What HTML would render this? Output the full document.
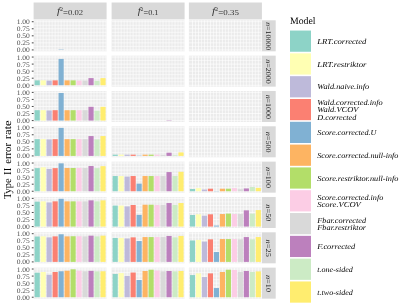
<!DOCTYPE html><html><head><meta charset="utf-8"><title>Type II error rate</title>
<style>html,body{margin:0;padding:0;background:#fff}svg{display:block}text{font-family:"Liberation Serif","DejaVu Serif",serif;text-rendering:geometricPrecision}</style></head><body>
<svg width="400" height="305" viewBox="0 0 400 305">
<rect width="400" height="305" fill="#fff"/>
<rect x="33.6" y="2.5" width="73.0" height="16.90" fill="#D9D9D9"/>
<text x="70.10" y="15.0" font-size="7.6" fill="#333" text-anchor="middle" textLength="26.2" lengthAdjust="spacingAndGlyphs"><tspan font-style="italic" font-size="9.6" dy="-0.6">f</tspan><tspan font-size="5.4" dy="-3.6">2</tspan><tspan dy="4.2">=0.02</tspan></text>
<rect x="111.6" y="2.5" width="73.0" height="16.90" fill="#D9D9D9"/>
<text x="148.10" y="15.0" font-size="7.6" fill="#333" text-anchor="middle" textLength="20.8" lengthAdjust="spacingAndGlyphs"><tspan font-style="italic" font-size="9.6" dy="-0.6">f</tspan><tspan font-size="5.4" dy="-3.6">2</tspan><tspan dy="4.2">=0.1</tspan></text>
<rect x="188.9" y="2.5" width="73.0" height="16.90" fill="#D9D9D9"/>
<text x="225.40" y="15.0" font-size="7.6" fill="#333" text-anchor="middle" textLength="27.0" lengthAdjust="spacingAndGlyphs"><tspan font-style="italic" font-size="9.6" dy="-0.6">f</tspan><tspan font-size="5.4" dy="-3.6">2</tspan><tspan dy="4.2">=0.35</tspan></text>
<rect x="33.6" y="20.31" width="73.0" height="31.02" fill="#EBEBEB"/>
<path d="M33.6 49.92h73.0" stroke="#fff" stroke-width="0.65"/><path d="M33.6 46.40h73.0" stroke="#fff" stroke-width="0.55"/><path d="M33.6 42.87h73.0" stroke="#fff" stroke-width="0.65"/><path d="M33.6 39.34h73.0" stroke="#fff" stroke-width="0.55"/><path d="M33.6 35.82h73.0" stroke="#fff" stroke-width="0.65"/><path d="M33.6 32.30h73.0" stroke="#fff" stroke-width="0.55"/><path d="M33.6 28.77h73.0" stroke="#fff" stroke-width="0.65"/><path d="M33.6 25.25h73.0" stroke="#fff" stroke-width="0.55"/><path d="M33.6 21.72h73.0" stroke="#fff" stroke-width="0.65"/><path d="M37.19 20.31V51.33" stroke="#fff" stroke-width="0.65"/><path d="M40.18 20.31V51.33" stroke="#fff" stroke-width="0.55"/><path d="M43.17 20.31V51.33" stroke="#fff" stroke-width="0.65"/><path d="M46.17 20.31V51.33" stroke="#fff" stroke-width="0.55"/><path d="M49.16 20.31V51.33" stroke="#fff" stroke-width="0.65"/><path d="M52.15 20.31V51.33" stroke="#fff" stroke-width="0.55"/><path d="M55.14 20.31V51.33" stroke="#fff" stroke-width="0.65"/><path d="M58.13 20.31V51.33" stroke="#fff" stroke-width="0.55"/><path d="M61.12 20.31V51.33" stroke="#fff" stroke-width="0.65"/><path d="M64.12 20.31V51.33" stroke="#fff" stroke-width="0.55"/><path d="M67.11 20.31V51.33" stroke="#fff" stroke-width="0.65"/><path d="M70.10 20.31V51.33" stroke="#fff" stroke-width="0.55"/><path d="M73.09 20.31V51.33" stroke="#fff" stroke-width="0.65"/><path d="M76.08 20.31V51.33" stroke="#fff" stroke-width="0.55"/><path d="M79.08 20.31V51.33" stroke="#fff" stroke-width="0.65"/><path d="M82.07 20.31V51.33" stroke="#fff" stroke-width="0.55"/><path d="M85.06 20.31V51.33" stroke="#fff" stroke-width="0.65"/><path d="M88.05 20.31V51.33" stroke="#fff" stroke-width="0.55"/><path d="M91.04 20.31V51.33" stroke="#fff" stroke-width="0.65"/><path d="M94.03 20.31V51.33" stroke="#fff" stroke-width="0.55"/><path d="M97.03 20.31V51.33" stroke="#fff" stroke-width="0.65"/><path d="M100.02 20.31V51.33" stroke="#fff" stroke-width="0.55"/><path d="M103.01 20.31V51.33" stroke="#fff" stroke-width="0.65"/><path d="M106.00 20.31V51.33" stroke="#fff" stroke-width="0.55"/>
<rect x="58.55" y="49.58" width="5.15" height="0.34" fill="#80B1D3"/>
<rect x="111.6" y="20.31" width="73.0" height="31.02" fill="#EBEBEB"/>
<path d="M111.6 49.92h73.0" stroke="#fff" stroke-width="0.65"/><path d="M111.6 46.40h73.0" stroke="#fff" stroke-width="0.55"/><path d="M111.6 42.87h73.0" stroke="#fff" stroke-width="0.65"/><path d="M111.6 39.34h73.0" stroke="#fff" stroke-width="0.55"/><path d="M111.6 35.82h73.0" stroke="#fff" stroke-width="0.65"/><path d="M111.6 32.30h73.0" stroke="#fff" stroke-width="0.55"/><path d="M111.6 28.77h73.0" stroke="#fff" stroke-width="0.65"/><path d="M111.6 25.25h73.0" stroke="#fff" stroke-width="0.55"/><path d="M111.6 21.72h73.0" stroke="#fff" stroke-width="0.65"/><path d="M115.19 20.31V51.33" stroke="#fff" stroke-width="0.65"/><path d="M118.18 20.31V51.33" stroke="#fff" stroke-width="0.55"/><path d="M121.17 20.31V51.33" stroke="#fff" stroke-width="0.65"/><path d="M124.17 20.31V51.33" stroke="#fff" stroke-width="0.55"/><path d="M127.16 20.31V51.33" stroke="#fff" stroke-width="0.65"/><path d="M130.15 20.31V51.33" stroke="#fff" stroke-width="0.55"/><path d="M133.14 20.31V51.33" stroke="#fff" stroke-width="0.65"/><path d="M136.13 20.31V51.33" stroke="#fff" stroke-width="0.55"/><path d="M139.12 20.31V51.33" stroke="#fff" stroke-width="0.65"/><path d="M142.12 20.31V51.33" stroke="#fff" stroke-width="0.55"/><path d="M145.11 20.31V51.33" stroke="#fff" stroke-width="0.65"/><path d="M148.10 20.31V51.33" stroke="#fff" stroke-width="0.55"/><path d="M151.09 20.31V51.33" stroke="#fff" stroke-width="0.65"/><path d="M154.08 20.31V51.33" stroke="#fff" stroke-width="0.55"/><path d="M157.08 20.31V51.33" stroke="#fff" stroke-width="0.65"/><path d="M160.07 20.31V51.33" stroke="#fff" stroke-width="0.55"/><path d="M163.06 20.31V51.33" stroke="#fff" stroke-width="0.65"/><path d="M166.05 20.31V51.33" stroke="#fff" stroke-width="0.55"/><path d="M169.04 20.31V51.33" stroke="#fff" stroke-width="0.65"/><path d="M172.03 20.31V51.33" stroke="#fff" stroke-width="0.55"/><path d="M175.03 20.31V51.33" stroke="#fff" stroke-width="0.65"/><path d="M178.02 20.31V51.33" stroke="#fff" stroke-width="0.55"/><path d="M181.01 20.31V51.33" stroke="#fff" stroke-width="0.65"/><path d="M184.00 20.31V51.33" stroke="#fff" stroke-width="0.55"/>
<rect x="188.9" y="20.31" width="73.0" height="31.02" fill="#EBEBEB"/>
<path d="M188.9 49.92h73.0" stroke="#fff" stroke-width="0.65"/><path d="M188.9 46.40h73.0" stroke="#fff" stroke-width="0.55"/><path d="M188.9 42.87h73.0" stroke="#fff" stroke-width="0.65"/><path d="M188.9 39.34h73.0" stroke="#fff" stroke-width="0.55"/><path d="M188.9 35.82h73.0" stroke="#fff" stroke-width="0.65"/><path d="M188.9 32.30h73.0" stroke="#fff" stroke-width="0.55"/><path d="M188.9 28.77h73.0" stroke="#fff" stroke-width="0.65"/><path d="M188.9 25.25h73.0" stroke="#fff" stroke-width="0.55"/><path d="M188.9 21.72h73.0" stroke="#fff" stroke-width="0.65"/><path d="M192.49 20.31V51.33" stroke="#fff" stroke-width="0.65"/><path d="M195.48 20.31V51.33" stroke="#fff" stroke-width="0.55"/><path d="M198.47 20.31V51.33" stroke="#fff" stroke-width="0.65"/><path d="M201.47 20.31V51.33" stroke="#fff" stroke-width="0.55"/><path d="M204.46 20.31V51.33" stroke="#fff" stroke-width="0.65"/><path d="M207.45 20.31V51.33" stroke="#fff" stroke-width="0.55"/><path d="M210.44 20.31V51.33" stroke="#fff" stroke-width="0.65"/><path d="M213.43 20.31V51.33" stroke="#fff" stroke-width="0.55"/><path d="M216.42 20.31V51.33" stroke="#fff" stroke-width="0.65"/><path d="M219.42 20.31V51.33" stroke="#fff" stroke-width="0.55"/><path d="M222.41 20.31V51.33" stroke="#fff" stroke-width="0.65"/><path d="M225.40 20.31V51.33" stroke="#fff" stroke-width="0.55"/><path d="M228.39 20.31V51.33" stroke="#fff" stroke-width="0.65"/><path d="M231.38 20.31V51.33" stroke="#fff" stroke-width="0.55"/><path d="M234.38 20.31V51.33" stroke="#fff" stroke-width="0.65"/><path d="M237.37 20.31V51.33" stroke="#fff" stroke-width="0.55"/><path d="M240.36 20.31V51.33" stroke="#fff" stroke-width="0.65"/><path d="M243.35 20.31V51.33" stroke="#fff" stroke-width="0.55"/><path d="M246.34 20.31V51.33" stroke="#fff" stroke-width="0.65"/><path d="M249.33 20.31V51.33" stroke="#fff" stroke-width="0.55"/><path d="M252.33 20.31V51.33" stroke="#fff" stroke-width="0.65"/><path d="M255.32 20.31V51.33" stroke="#fff" stroke-width="0.55"/><path d="M258.31 20.31V51.33" stroke="#fff" stroke-width="0.65"/><path d="M261.30 20.31V51.33" stroke="#fff" stroke-width="0.55"/>
<rect x="262.0" y="20.31" width="13.70" height="31.02" fill="#D9D9D9"/>
<text transform="translate(265.9 22.15) rotate(90)" font-size="7.2" fill="#1A1A1A" textLength="28.1" lengthAdjust="spacingAndGlyphs"><tspan font-style="italic">n</tspan>=10000</text>
<path d="M31.8 49.92H33.6" stroke="#333" stroke-width="0.9"/>
<text x="16.7" y="52.47" font-size="6.9" fill="#4D4D4D" textLength="13.2" lengthAdjust="spacingAndGlyphs">0.00</text>
<path d="M31.8 42.87H33.6" stroke="#333" stroke-width="0.9"/>
<text x="16.7" y="45.42" font-size="6.9" fill="#4D4D4D" textLength="13.2" lengthAdjust="spacingAndGlyphs">0.25</text>
<path d="M31.8 35.82H33.6" stroke="#333" stroke-width="0.9"/>
<text x="16.7" y="38.37" font-size="6.9" fill="#4D4D4D" textLength="13.2" lengthAdjust="spacingAndGlyphs">0.50</text>
<path d="M31.8 28.77H33.6" stroke="#333" stroke-width="0.9"/>
<text x="16.7" y="31.32" font-size="6.9" fill="#4D4D4D" textLength="13.2" lengthAdjust="spacingAndGlyphs">0.75</text>
<path d="M31.8 21.72H33.6" stroke="#333" stroke-width="0.9"/>
<text x="16.7" y="24.27" font-size="6.9" fill="#4D4D4D" textLength="13.2" lengthAdjust="spacingAndGlyphs">1.00</text>
<rect x="33.6" y="55.64" width="73.0" height="31.02" fill="#EBEBEB"/>
<path d="M33.6 85.25h73.0" stroke="#fff" stroke-width="0.65"/><path d="M33.6 81.72h73.0" stroke="#fff" stroke-width="0.55"/><path d="M33.6 78.20h73.0" stroke="#fff" stroke-width="0.65"/><path d="M33.6 74.67h73.0" stroke="#fff" stroke-width="0.55"/><path d="M33.6 71.15h73.0" stroke="#fff" stroke-width="0.65"/><path d="M33.6 67.62h73.0" stroke="#fff" stroke-width="0.55"/><path d="M33.6 64.10h73.0" stroke="#fff" stroke-width="0.65"/><path d="M33.6 60.58h73.0" stroke="#fff" stroke-width="0.55"/><path d="M33.6 57.05h73.0" stroke="#fff" stroke-width="0.65"/><path d="M37.19 55.64V86.66" stroke="#fff" stroke-width="0.65"/><path d="M40.18 55.64V86.66" stroke="#fff" stroke-width="0.55"/><path d="M43.17 55.64V86.66" stroke="#fff" stroke-width="0.65"/><path d="M46.17 55.64V86.66" stroke="#fff" stroke-width="0.55"/><path d="M49.16 55.64V86.66" stroke="#fff" stroke-width="0.65"/><path d="M52.15 55.64V86.66" stroke="#fff" stroke-width="0.55"/><path d="M55.14 55.64V86.66" stroke="#fff" stroke-width="0.65"/><path d="M58.13 55.64V86.66" stroke="#fff" stroke-width="0.55"/><path d="M61.12 55.64V86.66" stroke="#fff" stroke-width="0.65"/><path d="M64.12 55.64V86.66" stroke="#fff" stroke-width="0.55"/><path d="M67.11 55.64V86.66" stroke="#fff" stroke-width="0.65"/><path d="M70.10 55.64V86.66" stroke="#fff" stroke-width="0.55"/><path d="M73.09 55.64V86.66" stroke="#fff" stroke-width="0.65"/><path d="M76.08 55.64V86.66" stroke="#fff" stroke-width="0.55"/><path d="M79.08 55.64V86.66" stroke="#fff" stroke-width="0.65"/><path d="M82.07 55.64V86.66" stroke="#fff" stroke-width="0.55"/><path d="M85.06 55.64V86.66" stroke="#fff" stroke-width="0.65"/><path d="M88.05 55.64V86.66" stroke="#fff" stroke-width="0.55"/><path d="M91.04 55.64V86.66" stroke="#fff" stroke-width="0.65"/><path d="M94.03 55.64V86.66" stroke="#fff" stroke-width="0.55"/><path d="M97.03 55.64V86.66" stroke="#fff" stroke-width="0.65"/><path d="M100.02 55.64V86.66" stroke="#fff" stroke-width="0.55"/><path d="M103.01 55.64V86.66" stroke="#fff" stroke-width="0.65"/><path d="M106.00 55.64V86.66" stroke="#fff" stroke-width="0.55"/>
<rect x="34.62" y="80.37" width="5.15" height="4.88" fill="#8DD3C7"/>
<rect x="40.60" y="80.37" width="5.15" height="4.88" fill="#FFFFB3"/>
<rect x="46.58" y="80.65" width="5.15" height="4.60" fill="#BEBADA"/>
<rect x="52.57" y="80.37" width="5.15" height="4.88" fill="#FB8072"/>
<rect x="58.55" y="58.93" width="5.15" height="26.32" fill="#80B1D3"/>
<rect x="64.54" y="80.37" width="5.15" height="4.88" fill="#FDB462"/>
<rect x="70.52" y="80.37" width="5.15" height="4.88" fill="#B3DE69"/>
<rect x="76.50" y="80.65" width="5.15" height="4.60" fill="#FCCDE5"/>
<rect x="82.49" y="80.65" width="5.15" height="4.60" fill="#D9D9D9"/>
<rect x="88.47" y="78.11" width="5.15" height="7.14" fill="#BC80BD"/>
<rect x="94.45" y="80.93" width="5.15" height="4.32" fill="#CCEBC5"/>
<rect x="100.44" y="78.11" width="5.15" height="7.14" fill="#FFED6F"/>
<rect x="111.6" y="55.64" width="73.0" height="31.02" fill="#EBEBEB"/>
<path d="M111.6 85.25h73.0" stroke="#fff" stroke-width="0.65"/><path d="M111.6 81.72h73.0" stroke="#fff" stroke-width="0.55"/><path d="M111.6 78.20h73.0" stroke="#fff" stroke-width="0.65"/><path d="M111.6 74.67h73.0" stroke="#fff" stroke-width="0.55"/><path d="M111.6 71.15h73.0" stroke="#fff" stroke-width="0.65"/><path d="M111.6 67.62h73.0" stroke="#fff" stroke-width="0.55"/><path d="M111.6 64.10h73.0" stroke="#fff" stroke-width="0.65"/><path d="M111.6 60.58h73.0" stroke="#fff" stroke-width="0.55"/><path d="M111.6 57.05h73.0" stroke="#fff" stroke-width="0.65"/><path d="M115.19 55.64V86.66" stroke="#fff" stroke-width="0.65"/><path d="M118.18 55.64V86.66" stroke="#fff" stroke-width="0.55"/><path d="M121.17 55.64V86.66" stroke="#fff" stroke-width="0.65"/><path d="M124.17 55.64V86.66" stroke="#fff" stroke-width="0.55"/><path d="M127.16 55.64V86.66" stroke="#fff" stroke-width="0.65"/><path d="M130.15 55.64V86.66" stroke="#fff" stroke-width="0.55"/><path d="M133.14 55.64V86.66" stroke="#fff" stroke-width="0.65"/><path d="M136.13 55.64V86.66" stroke="#fff" stroke-width="0.55"/><path d="M139.12 55.64V86.66" stroke="#fff" stroke-width="0.65"/><path d="M142.12 55.64V86.66" stroke="#fff" stroke-width="0.55"/><path d="M145.11 55.64V86.66" stroke="#fff" stroke-width="0.65"/><path d="M148.10 55.64V86.66" stroke="#fff" stroke-width="0.55"/><path d="M151.09 55.64V86.66" stroke="#fff" stroke-width="0.65"/><path d="M154.08 55.64V86.66" stroke="#fff" stroke-width="0.55"/><path d="M157.08 55.64V86.66" stroke="#fff" stroke-width="0.65"/><path d="M160.07 55.64V86.66" stroke="#fff" stroke-width="0.55"/><path d="M163.06 55.64V86.66" stroke="#fff" stroke-width="0.65"/><path d="M166.05 55.64V86.66" stroke="#fff" stroke-width="0.55"/><path d="M169.04 55.64V86.66" stroke="#fff" stroke-width="0.65"/><path d="M172.03 55.64V86.66" stroke="#fff" stroke-width="0.55"/><path d="M175.03 55.64V86.66" stroke="#fff" stroke-width="0.65"/><path d="M178.02 55.64V86.66" stroke="#fff" stroke-width="0.55"/><path d="M181.01 55.64V86.66" stroke="#fff" stroke-width="0.65"/><path d="M184.00 55.64V86.66" stroke="#fff" stroke-width="0.55"/>
<rect x="188.9" y="55.64" width="73.0" height="31.02" fill="#EBEBEB"/>
<path d="M188.9 85.25h73.0" stroke="#fff" stroke-width="0.65"/><path d="M188.9 81.72h73.0" stroke="#fff" stroke-width="0.55"/><path d="M188.9 78.20h73.0" stroke="#fff" stroke-width="0.65"/><path d="M188.9 74.67h73.0" stroke="#fff" stroke-width="0.55"/><path d="M188.9 71.15h73.0" stroke="#fff" stroke-width="0.65"/><path d="M188.9 67.62h73.0" stroke="#fff" stroke-width="0.55"/><path d="M188.9 64.10h73.0" stroke="#fff" stroke-width="0.65"/><path d="M188.9 60.58h73.0" stroke="#fff" stroke-width="0.55"/><path d="M188.9 57.05h73.0" stroke="#fff" stroke-width="0.65"/><path d="M192.49 55.64V86.66" stroke="#fff" stroke-width="0.65"/><path d="M195.48 55.64V86.66" stroke="#fff" stroke-width="0.55"/><path d="M198.47 55.64V86.66" stroke="#fff" stroke-width="0.65"/><path d="M201.47 55.64V86.66" stroke="#fff" stroke-width="0.55"/><path d="M204.46 55.64V86.66" stroke="#fff" stroke-width="0.65"/><path d="M207.45 55.64V86.66" stroke="#fff" stroke-width="0.55"/><path d="M210.44 55.64V86.66" stroke="#fff" stroke-width="0.65"/><path d="M213.43 55.64V86.66" stroke="#fff" stroke-width="0.55"/><path d="M216.42 55.64V86.66" stroke="#fff" stroke-width="0.65"/><path d="M219.42 55.64V86.66" stroke="#fff" stroke-width="0.55"/><path d="M222.41 55.64V86.66" stroke="#fff" stroke-width="0.65"/><path d="M225.40 55.64V86.66" stroke="#fff" stroke-width="0.55"/><path d="M228.39 55.64V86.66" stroke="#fff" stroke-width="0.65"/><path d="M231.38 55.64V86.66" stroke="#fff" stroke-width="0.55"/><path d="M234.38 55.64V86.66" stroke="#fff" stroke-width="0.65"/><path d="M237.37 55.64V86.66" stroke="#fff" stroke-width="0.55"/><path d="M240.36 55.64V86.66" stroke="#fff" stroke-width="0.65"/><path d="M243.35 55.64V86.66" stroke="#fff" stroke-width="0.55"/><path d="M246.34 55.64V86.66" stroke="#fff" stroke-width="0.65"/><path d="M249.33 55.64V86.66" stroke="#fff" stroke-width="0.55"/><path d="M252.33 55.64V86.66" stroke="#fff" stroke-width="0.65"/><path d="M255.32 55.64V86.66" stroke="#fff" stroke-width="0.55"/><path d="M258.31 55.64V86.66" stroke="#fff" stroke-width="0.65"/><path d="M261.30 55.64V86.66" stroke="#fff" stroke-width="0.55"/>
<rect x="262.0" y="55.64" width="13.70" height="31.02" fill="#D9D9D9"/>
<text transform="translate(265.9 59.30) rotate(90)" font-size="7.2" fill="#1A1A1A" textLength="24.5" lengthAdjust="spacingAndGlyphs"><tspan font-style="italic">n</tspan>=2000</text>
<path d="M31.8 85.25H33.6" stroke="#333" stroke-width="0.9"/>
<text x="16.7" y="87.80" font-size="6.9" fill="#4D4D4D" textLength="13.2" lengthAdjust="spacingAndGlyphs">0.00</text>
<path d="M31.8 78.20H33.6" stroke="#333" stroke-width="0.9"/>
<text x="16.7" y="80.75" font-size="6.9" fill="#4D4D4D" textLength="13.2" lengthAdjust="spacingAndGlyphs">0.25</text>
<path d="M31.8 71.15H33.6" stroke="#333" stroke-width="0.9"/>
<text x="16.7" y="73.70" font-size="6.9" fill="#4D4D4D" textLength="13.2" lengthAdjust="spacingAndGlyphs">0.50</text>
<path d="M31.8 64.10H33.6" stroke="#333" stroke-width="0.9"/>
<text x="16.7" y="66.65" font-size="6.9" fill="#4D4D4D" textLength="13.2" lengthAdjust="spacingAndGlyphs">0.75</text>
<path d="M31.8 57.05H33.6" stroke="#333" stroke-width="0.9"/>
<text x="16.7" y="59.60" font-size="6.9" fill="#4D4D4D" textLength="13.2" lengthAdjust="spacingAndGlyphs">1.00</text>
<rect x="33.6" y="90.97" width="73.0" height="31.02" fill="#EBEBEB"/>
<path d="M33.6 120.58h73.0" stroke="#fff" stroke-width="0.65"/><path d="M33.6 117.05h73.0" stroke="#fff" stroke-width="0.55"/><path d="M33.6 113.53h73.0" stroke="#fff" stroke-width="0.65"/><path d="M33.6 110.00h73.0" stroke="#fff" stroke-width="0.55"/><path d="M33.6 106.48h73.0" stroke="#fff" stroke-width="0.65"/><path d="M33.6 102.95h73.0" stroke="#fff" stroke-width="0.55"/><path d="M33.6 99.43h73.0" stroke="#fff" stroke-width="0.65"/><path d="M33.6 95.91h73.0" stroke="#fff" stroke-width="0.55"/><path d="M33.6 92.38h73.0" stroke="#fff" stroke-width="0.65"/><path d="M37.19 90.97V121.99" stroke="#fff" stroke-width="0.65"/><path d="M40.18 90.97V121.99" stroke="#fff" stroke-width="0.55"/><path d="M43.17 90.97V121.99" stroke="#fff" stroke-width="0.65"/><path d="M46.17 90.97V121.99" stroke="#fff" stroke-width="0.55"/><path d="M49.16 90.97V121.99" stroke="#fff" stroke-width="0.65"/><path d="M52.15 90.97V121.99" stroke="#fff" stroke-width="0.55"/><path d="M55.14 90.97V121.99" stroke="#fff" stroke-width="0.65"/><path d="M58.13 90.97V121.99" stroke="#fff" stroke-width="0.55"/><path d="M61.12 90.97V121.99" stroke="#fff" stroke-width="0.65"/><path d="M64.12 90.97V121.99" stroke="#fff" stroke-width="0.55"/><path d="M67.11 90.97V121.99" stroke="#fff" stroke-width="0.65"/><path d="M70.10 90.97V121.99" stroke="#fff" stroke-width="0.55"/><path d="M73.09 90.97V121.99" stroke="#fff" stroke-width="0.65"/><path d="M76.08 90.97V121.99" stroke="#fff" stroke-width="0.55"/><path d="M79.08 90.97V121.99" stroke="#fff" stroke-width="0.65"/><path d="M82.07 90.97V121.99" stroke="#fff" stroke-width="0.55"/><path d="M85.06 90.97V121.99" stroke="#fff" stroke-width="0.65"/><path d="M88.05 90.97V121.99" stroke="#fff" stroke-width="0.55"/><path d="M91.04 90.97V121.99" stroke="#fff" stroke-width="0.65"/><path d="M94.03 90.97V121.99" stroke="#fff" stroke-width="0.55"/><path d="M97.03 90.97V121.99" stroke="#fff" stroke-width="0.65"/><path d="M100.02 90.97V121.99" stroke="#fff" stroke-width="0.55"/><path d="M103.01 90.97V121.99" stroke="#fff" stroke-width="0.65"/><path d="M106.00 90.97V121.99" stroke="#fff" stroke-width="0.55"/>
<rect x="34.62" y="110.19" width="5.15" height="10.39" fill="#8DD3C7"/>
<rect x="40.60" y="110.19" width="5.15" height="10.39" fill="#FFFFB3"/>
<rect x="46.58" y="110.47" width="5.15" height="10.11" fill="#BEBADA"/>
<rect x="52.57" y="110.19" width="5.15" height="10.39" fill="#FB8072"/>
<rect x="58.55" y="92.98" width="5.15" height="27.60" fill="#80B1D3"/>
<rect x="64.54" y="110.19" width="5.15" height="10.39" fill="#FDB462"/>
<rect x="70.52" y="110.19" width="5.15" height="10.39" fill="#B3DE69"/>
<rect x="76.50" y="110.19" width="5.15" height="10.39" fill="#FCCDE5"/>
<rect x="82.49" y="110.19" width="5.15" height="10.39" fill="#D9D9D9"/>
<rect x="88.47" y="106.80" width="5.15" height="13.78" fill="#BC80BD"/>
<rect x="94.45" y="110.75" width="5.15" height="9.83" fill="#CCEBC5"/>
<rect x="100.44" y="106.80" width="5.15" height="13.78" fill="#FFED6F"/>
<rect x="111.6" y="90.97" width="73.0" height="31.02" fill="#EBEBEB"/>
<path d="M111.6 120.58h73.0" stroke="#fff" stroke-width="0.65"/><path d="M111.6 117.05h73.0" stroke="#fff" stroke-width="0.55"/><path d="M111.6 113.53h73.0" stroke="#fff" stroke-width="0.65"/><path d="M111.6 110.00h73.0" stroke="#fff" stroke-width="0.55"/><path d="M111.6 106.48h73.0" stroke="#fff" stroke-width="0.65"/><path d="M111.6 102.95h73.0" stroke="#fff" stroke-width="0.55"/><path d="M111.6 99.43h73.0" stroke="#fff" stroke-width="0.65"/><path d="M111.6 95.91h73.0" stroke="#fff" stroke-width="0.55"/><path d="M111.6 92.38h73.0" stroke="#fff" stroke-width="0.65"/><path d="M115.19 90.97V121.99" stroke="#fff" stroke-width="0.65"/><path d="M118.18 90.97V121.99" stroke="#fff" stroke-width="0.55"/><path d="M121.17 90.97V121.99" stroke="#fff" stroke-width="0.65"/><path d="M124.17 90.97V121.99" stroke="#fff" stroke-width="0.55"/><path d="M127.16 90.97V121.99" stroke="#fff" stroke-width="0.65"/><path d="M130.15 90.97V121.99" stroke="#fff" stroke-width="0.55"/><path d="M133.14 90.97V121.99" stroke="#fff" stroke-width="0.65"/><path d="M136.13 90.97V121.99" stroke="#fff" stroke-width="0.55"/><path d="M139.12 90.97V121.99" stroke="#fff" stroke-width="0.65"/><path d="M142.12 90.97V121.99" stroke="#fff" stroke-width="0.55"/><path d="M145.11 90.97V121.99" stroke="#fff" stroke-width="0.65"/><path d="M148.10 90.97V121.99" stroke="#fff" stroke-width="0.55"/><path d="M151.09 90.97V121.99" stroke="#fff" stroke-width="0.65"/><path d="M154.08 90.97V121.99" stroke="#fff" stroke-width="0.55"/><path d="M157.08 90.97V121.99" stroke="#fff" stroke-width="0.65"/><path d="M160.07 90.97V121.99" stroke="#fff" stroke-width="0.55"/><path d="M163.06 90.97V121.99" stroke="#fff" stroke-width="0.65"/><path d="M166.05 90.97V121.99" stroke="#fff" stroke-width="0.55"/><path d="M169.04 90.97V121.99" stroke="#fff" stroke-width="0.65"/><path d="M172.03 90.97V121.99" stroke="#fff" stroke-width="0.55"/><path d="M175.03 90.97V121.99" stroke="#fff" stroke-width="0.65"/><path d="M178.02 90.97V121.99" stroke="#fff" stroke-width="0.55"/><path d="M181.01 90.97V121.99" stroke="#fff" stroke-width="0.65"/><path d="M184.00 90.97V121.99" stroke="#fff" stroke-width="0.55"/>
<rect x="166.47" y="120.24" width="5.15" height="0.34" fill="#BC80BD"/>
<rect x="188.9" y="90.97" width="73.0" height="31.02" fill="#EBEBEB"/>
<path d="M188.9 120.58h73.0" stroke="#fff" stroke-width="0.65"/><path d="M188.9 117.05h73.0" stroke="#fff" stroke-width="0.55"/><path d="M188.9 113.53h73.0" stroke="#fff" stroke-width="0.65"/><path d="M188.9 110.00h73.0" stroke="#fff" stroke-width="0.55"/><path d="M188.9 106.48h73.0" stroke="#fff" stroke-width="0.65"/><path d="M188.9 102.95h73.0" stroke="#fff" stroke-width="0.55"/><path d="M188.9 99.43h73.0" stroke="#fff" stroke-width="0.65"/><path d="M188.9 95.91h73.0" stroke="#fff" stroke-width="0.55"/><path d="M188.9 92.38h73.0" stroke="#fff" stroke-width="0.65"/><path d="M192.49 90.97V121.99" stroke="#fff" stroke-width="0.65"/><path d="M195.48 90.97V121.99" stroke="#fff" stroke-width="0.55"/><path d="M198.47 90.97V121.99" stroke="#fff" stroke-width="0.65"/><path d="M201.47 90.97V121.99" stroke="#fff" stroke-width="0.55"/><path d="M204.46 90.97V121.99" stroke="#fff" stroke-width="0.65"/><path d="M207.45 90.97V121.99" stroke="#fff" stroke-width="0.55"/><path d="M210.44 90.97V121.99" stroke="#fff" stroke-width="0.65"/><path d="M213.43 90.97V121.99" stroke="#fff" stroke-width="0.55"/><path d="M216.42 90.97V121.99" stroke="#fff" stroke-width="0.65"/><path d="M219.42 90.97V121.99" stroke="#fff" stroke-width="0.55"/><path d="M222.41 90.97V121.99" stroke="#fff" stroke-width="0.65"/><path d="M225.40 90.97V121.99" stroke="#fff" stroke-width="0.55"/><path d="M228.39 90.97V121.99" stroke="#fff" stroke-width="0.65"/><path d="M231.38 90.97V121.99" stroke="#fff" stroke-width="0.55"/><path d="M234.38 90.97V121.99" stroke="#fff" stroke-width="0.65"/><path d="M237.37 90.97V121.99" stroke="#fff" stroke-width="0.55"/><path d="M240.36 90.97V121.99" stroke="#fff" stroke-width="0.65"/><path d="M243.35 90.97V121.99" stroke="#fff" stroke-width="0.55"/><path d="M246.34 90.97V121.99" stroke="#fff" stroke-width="0.65"/><path d="M249.33 90.97V121.99" stroke="#fff" stroke-width="0.55"/><path d="M252.33 90.97V121.99" stroke="#fff" stroke-width="0.65"/><path d="M255.32 90.97V121.99" stroke="#fff" stroke-width="0.55"/><path d="M258.31 90.97V121.99" stroke="#fff" stroke-width="0.65"/><path d="M261.30 90.97V121.99" stroke="#fff" stroke-width="0.55"/>
<rect x="262.0" y="90.97" width="13.70" height="31.02" fill="#D9D9D9"/>
<text transform="translate(265.9 94.63) rotate(90)" font-size="7.2" fill="#1A1A1A" textLength="24.5" lengthAdjust="spacingAndGlyphs"><tspan font-style="italic">n</tspan>=1000</text>
<path d="M31.8 120.58H33.6" stroke="#333" stroke-width="0.9"/>
<text x="16.7" y="123.13" font-size="6.9" fill="#4D4D4D" textLength="13.2" lengthAdjust="spacingAndGlyphs">0.00</text>
<path d="M31.8 113.53H33.6" stroke="#333" stroke-width="0.9"/>
<text x="16.7" y="116.08" font-size="6.9" fill="#4D4D4D" textLength="13.2" lengthAdjust="spacingAndGlyphs">0.25</text>
<path d="M31.8 106.48H33.6" stroke="#333" stroke-width="0.9"/>
<text x="16.7" y="109.03" font-size="6.9" fill="#4D4D4D" textLength="13.2" lengthAdjust="spacingAndGlyphs">0.50</text>
<path d="M31.8 99.43H33.6" stroke="#333" stroke-width="0.9"/>
<text x="16.7" y="101.98" font-size="6.9" fill="#4D4D4D" textLength="13.2" lengthAdjust="spacingAndGlyphs">0.75</text>
<path d="M31.8 92.38H33.6" stroke="#333" stroke-width="0.9"/>
<text x="16.7" y="94.93" font-size="6.9" fill="#4D4D4D" textLength="13.2" lengthAdjust="spacingAndGlyphs">1.00</text>
<rect x="33.6" y="126.30" width="73.0" height="31.02" fill="#EBEBEB"/>
<path d="M33.6 155.91h73.0" stroke="#fff" stroke-width="0.65"/><path d="M33.6 152.38h73.0" stroke="#fff" stroke-width="0.55"/><path d="M33.6 148.86h73.0" stroke="#fff" stroke-width="0.65"/><path d="M33.6 145.34h73.0" stroke="#fff" stroke-width="0.55"/><path d="M33.6 141.81h73.0" stroke="#fff" stroke-width="0.65"/><path d="M33.6 138.28h73.0" stroke="#fff" stroke-width="0.55"/><path d="M33.6 134.76h73.0" stroke="#fff" stroke-width="0.65"/><path d="M33.6 131.23h73.0" stroke="#fff" stroke-width="0.55"/><path d="M33.6 127.71h73.0" stroke="#fff" stroke-width="0.65"/><path d="M37.19 126.30V157.32" stroke="#fff" stroke-width="0.65"/><path d="M40.18 126.30V157.32" stroke="#fff" stroke-width="0.55"/><path d="M43.17 126.30V157.32" stroke="#fff" stroke-width="0.65"/><path d="M46.17 126.30V157.32" stroke="#fff" stroke-width="0.55"/><path d="M49.16 126.30V157.32" stroke="#fff" stroke-width="0.65"/><path d="M52.15 126.30V157.32" stroke="#fff" stroke-width="0.55"/><path d="M55.14 126.30V157.32" stroke="#fff" stroke-width="0.65"/><path d="M58.13 126.30V157.32" stroke="#fff" stroke-width="0.55"/><path d="M61.12 126.30V157.32" stroke="#fff" stroke-width="0.65"/><path d="M64.12 126.30V157.32" stroke="#fff" stroke-width="0.55"/><path d="M67.11 126.30V157.32" stroke="#fff" stroke-width="0.65"/><path d="M70.10 126.30V157.32" stroke="#fff" stroke-width="0.55"/><path d="M73.09 126.30V157.32" stroke="#fff" stroke-width="0.65"/><path d="M76.08 126.30V157.32" stroke="#fff" stroke-width="0.55"/><path d="M79.08 126.30V157.32" stroke="#fff" stroke-width="0.65"/><path d="M82.07 126.30V157.32" stroke="#fff" stroke-width="0.55"/><path d="M85.06 126.30V157.32" stroke="#fff" stroke-width="0.65"/><path d="M88.05 126.30V157.32" stroke="#fff" stroke-width="0.55"/><path d="M91.04 126.30V157.32" stroke="#fff" stroke-width="0.65"/><path d="M94.03 126.30V157.32" stroke="#fff" stroke-width="0.55"/><path d="M97.03 126.30V157.32" stroke="#fff" stroke-width="0.65"/><path d="M100.02 126.30V157.32" stroke="#fff" stroke-width="0.55"/><path d="M103.01 126.30V157.32" stroke="#fff" stroke-width="0.65"/><path d="M106.00 126.30V157.32" stroke="#fff" stroke-width="0.55"/>
<rect x="34.62" y="139.16" width="5.15" height="16.75" fill="#8DD3C7"/>
<rect x="40.60" y="139.16" width="5.15" height="16.75" fill="#FFFFB3"/>
<rect x="46.58" y="139.44" width="5.15" height="16.47" fill="#BEBADA"/>
<rect x="52.57" y="139.16" width="5.15" height="16.75" fill="#FB8072"/>
<rect x="58.55" y="127.88" width="5.15" height="28.03" fill="#80B1D3"/>
<rect x="64.54" y="139.16" width="5.15" height="16.75" fill="#FDB462"/>
<rect x="70.52" y="139.16" width="5.15" height="16.75" fill="#B3DE69"/>
<rect x="76.50" y="139.16" width="5.15" height="16.75" fill="#FCCDE5"/>
<rect x="82.49" y="139.16" width="5.15" height="16.75" fill="#D9D9D9"/>
<rect x="88.47" y="136.06" width="5.15" height="19.85" fill="#BC80BD"/>
<rect x="94.45" y="139.44" width="5.15" height="16.47" fill="#CCEBC5"/>
<rect x="100.44" y="136.06" width="5.15" height="19.85" fill="#FFED6F"/>
<rect x="111.6" y="126.30" width="73.0" height="31.02" fill="#EBEBEB"/>
<path d="M111.6 155.91h73.0" stroke="#fff" stroke-width="0.65"/><path d="M111.6 152.38h73.0" stroke="#fff" stroke-width="0.55"/><path d="M111.6 148.86h73.0" stroke="#fff" stroke-width="0.65"/><path d="M111.6 145.34h73.0" stroke="#fff" stroke-width="0.55"/><path d="M111.6 141.81h73.0" stroke="#fff" stroke-width="0.65"/><path d="M111.6 138.28h73.0" stroke="#fff" stroke-width="0.55"/><path d="M111.6 134.76h73.0" stroke="#fff" stroke-width="0.65"/><path d="M111.6 131.23h73.0" stroke="#fff" stroke-width="0.55"/><path d="M111.6 127.71h73.0" stroke="#fff" stroke-width="0.65"/><path d="M115.19 126.30V157.32" stroke="#fff" stroke-width="0.65"/><path d="M118.18 126.30V157.32" stroke="#fff" stroke-width="0.55"/><path d="M121.17 126.30V157.32" stroke="#fff" stroke-width="0.65"/><path d="M124.17 126.30V157.32" stroke="#fff" stroke-width="0.55"/><path d="M127.16 126.30V157.32" stroke="#fff" stroke-width="0.65"/><path d="M130.15 126.30V157.32" stroke="#fff" stroke-width="0.55"/><path d="M133.14 126.30V157.32" stroke="#fff" stroke-width="0.65"/><path d="M136.13 126.30V157.32" stroke="#fff" stroke-width="0.55"/><path d="M139.12 126.30V157.32" stroke="#fff" stroke-width="0.65"/><path d="M142.12 126.30V157.32" stroke="#fff" stroke-width="0.55"/><path d="M145.11 126.30V157.32" stroke="#fff" stroke-width="0.65"/><path d="M148.10 126.30V157.32" stroke="#fff" stroke-width="0.55"/><path d="M151.09 126.30V157.32" stroke="#fff" stroke-width="0.65"/><path d="M154.08 126.30V157.32" stroke="#fff" stroke-width="0.55"/><path d="M157.08 126.30V157.32" stroke="#fff" stroke-width="0.65"/><path d="M160.07 126.30V157.32" stroke="#fff" stroke-width="0.55"/><path d="M163.06 126.30V157.32" stroke="#fff" stroke-width="0.65"/><path d="M166.05 126.30V157.32" stroke="#fff" stroke-width="0.55"/><path d="M169.04 126.30V157.32" stroke="#fff" stroke-width="0.65"/><path d="M172.03 126.30V157.32" stroke="#fff" stroke-width="0.55"/><path d="M175.03 126.30V157.32" stroke="#fff" stroke-width="0.65"/><path d="M178.02 126.30V157.32" stroke="#fff" stroke-width="0.55"/><path d="M181.01 126.30V157.32" stroke="#fff" stroke-width="0.65"/><path d="M184.00 126.30V157.32" stroke="#fff" stroke-width="0.55"/>
<rect x="112.62" y="154.67" width="5.15" height="1.24" fill="#8DD3C7"/>
<rect x="118.60" y="154.67" width="5.15" height="1.24" fill="#FFFFB3"/>
<rect x="124.58" y="154.67" width="5.15" height="1.24" fill="#BEBADA"/>
<rect x="130.57" y="154.67" width="5.15" height="1.24" fill="#FB8072"/>
<rect x="136.55" y="155.63" width="5.15" height="0.28" fill="#80B1D3"/>
<rect x="142.54" y="154.67" width="5.15" height="1.24" fill="#FDB462"/>
<rect x="148.52" y="154.67" width="5.15" height="1.24" fill="#B3DE69"/>
<rect x="154.50" y="154.67" width="5.15" height="1.24" fill="#FCCDE5"/>
<rect x="160.49" y="154.95" width="5.15" height="0.96" fill="#D9D9D9"/>
<rect x="166.47" y="152.70" width="5.15" height="3.21" fill="#BC80BD"/>
<rect x="172.45" y="155.23" width="5.15" height="0.68" fill="#CCEBC5"/>
<rect x="178.44" y="152.41" width="5.15" height="3.50" fill="#FFED6F"/>
<rect x="188.9" y="126.30" width="73.0" height="31.02" fill="#EBEBEB"/>
<path d="M188.9 155.91h73.0" stroke="#fff" stroke-width="0.65"/><path d="M188.9 152.38h73.0" stroke="#fff" stroke-width="0.55"/><path d="M188.9 148.86h73.0" stroke="#fff" stroke-width="0.65"/><path d="M188.9 145.34h73.0" stroke="#fff" stroke-width="0.55"/><path d="M188.9 141.81h73.0" stroke="#fff" stroke-width="0.65"/><path d="M188.9 138.28h73.0" stroke="#fff" stroke-width="0.55"/><path d="M188.9 134.76h73.0" stroke="#fff" stroke-width="0.65"/><path d="M188.9 131.23h73.0" stroke="#fff" stroke-width="0.55"/><path d="M188.9 127.71h73.0" stroke="#fff" stroke-width="0.65"/><path d="M192.49 126.30V157.32" stroke="#fff" stroke-width="0.65"/><path d="M195.48 126.30V157.32" stroke="#fff" stroke-width="0.55"/><path d="M198.47 126.30V157.32" stroke="#fff" stroke-width="0.65"/><path d="M201.47 126.30V157.32" stroke="#fff" stroke-width="0.55"/><path d="M204.46 126.30V157.32" stroke="#fff" stroke-width="0.65"/><path d="M207.45 126.30V157.32" stroke="#fff" stroke-width="0.55"/><path d="M210.44 126.30V157.32" stroke="#fff" stroke-width="0.65"/><path d="M213.43 126.30V157.32" stroke="#fff" stroke-width="0.55"/><path d="M216.42 126.30V157.32" stroke="#fff" stroke-width="0.65"/><path d="M219.42 126.30V157.32" stroke="#fff" stroke-width="0.55"/><path d="M222.41 126.30V157.32" stroke="#fff" stroke-width="0.65"/><path d="M225.40 126.30V157.32" stroke="#fff" stroke-width="0.55"/><path d="M228.39 126.30V157.32" stroke="#fff" stroke-width="0.65"/><path d="M231.38 126.30V157.32" stroke="#fff" stroke-width="0.55"/><path d="M234.38 126.30V157.32" stroke="#fff" stroke-width="0.65"/><path d="M237.37 126.30V157.32" stroke="#fff" stroke-width="0.55"/><path d="M240.36 126.30V157.32" stroke="#fff" stroke-width="0.65"/><path d="M243.35 126.30V157.32" stroke="#fff" stroke-width="0.55"/><path d="M246.34 126.30V157.32" stroke="#fff" stroke-width="0.65"/><path d="M249.33 126.30V157.32" stroke="#fff" stroke-width="0.55"/><path d="M252.33 126.30V157.32" stroke="#fff" stroke-width="0.65"/><path d="M255.32 126.30V157.32" stroke="#fff" stroke-width="0.55"/><path d="M258.31 126.30V157.32" stroke="#fff" stroke-width="0.65"/><path d="M261.30 126.30V157.32" stroke="#fff" stroke-width="0.55"/>
<rect x="262.0" y="126.30" width="13.70" height="31.02" fill="#D9D9D9"/>
<text transform="translate(265.9 131.77) rotate(90)" font-size="7.2" fill="#1A1A1A" textLength="20.9" lengthAdjust="spacingAndGlyphs"><tspan font-style="italic">n</tspan>=500</text>
<path d="M31.8 155.91H33.6" stroke="#333" stroke-width="0.9"/>
<text x="16.7" y="158.46" font-size="6.9" fill="#4D4D4D" textLength="13.2" lengthAdjust="spacingAndGlyphs">0.00</text>
<path d="M31.8 148.86H33.6" stroke="#333" stroke-width="0.9"/>
<text x="16.7" y="151.41" font-size="6.9" fill="#4D4D4D" textLength="13.2" lengthAdjust="spacingAndGlyphs">0.25</text>
<path d="M31.8 141.81H33.6" stroke="#333" stroke-width="0.9"/>
<text x="16.7" y="144.36" font-size="6.9" fill="#4D4D4D" textLength="13.2" lengthAdjust="spacingAndGlyphs">0.50</text>
<path d="M31.8 134.76H33.6" stroke="#333" stroke-width="0.9"/>
<text x="16.7" y="137.31" font-size="6.9" fill="#4D4D4D" textLength="13.2" lengthAdjust="spacingAndGlyphs">0.75</text>
<path d="M31.8 127.71H33.6" stroke="#333" stroke-width="0.9"/>
<text x="16.7" y="130.26" font-size="6.9" fill="#4D4D4D" textLength="13.2" lengthAdjust="spacingAndGlyphs">1.00</text>
<rect x="33.6" y="161.63" width="73.0" height="31.02" fill="#EBEBEB"/>
<path d="M33.6 191.24h73.0" stroke="#fff" stroke-width="0.65"/><path d="M33.6 187.71h73.0" stroke="#fff" stroke-width="0.55"/><path d="M33.6 184.19h73.0" stroke="#fff" stroke-width="0.65"/><path d="M33.6 180.66h73.0" stroke="#fff" stroke-width="0.55"/><path d="M33.6 177.14h73.0" stroke="#fff" stroke-width="0.65"/><path d="M33.6 173.61h73.0" stroke="#fff" stroke-width="0.55"/><path d="M33.6 170.09h73.0" stroke="#fff" stroke-width="0.65"/><path d="M33.6 166.56h73.0" stroke="#fff" stroke-width="0.55"/><path d="M33.6 163.04h73.0" stroke="#fff" stroke-width="0.65"/><path d="M37.19 161.63V192.65" stroke="#fff" stroke-width="0.65"/><path d="M40.18 161.63V192.65" stroke="#fff" stroke-width="0.55"/><path d="M43.17 161.63V192.65" stroke="#fff" stroke-width="0.65"/><path d="M46.17 161.63V192.65" stroke="#fff" stroke-width="0.55"/><path d="M49.16 161.63V192.65" stroke="#fff" stroke-width="0.65"/><path d="M52.15 161.63V192.65" stroke="#fff" stroke-width="0.55"/><path d="M55.14 161.63V192.65" stroke="#fff" stroke-width="0.65"/><path d="M58.13 161.63V192.65" stroke="#fff" stroke-width="0.55"/><path d="M61.12 161.63V192.65" stroke="#fff" stroke-width="0.65"/><path d="M64.12 161.63V192.65" stroke="#fff" stroke-width="0.55"/><path d="M67.11 161.63V192.65" stroke="#fff" stroke-width="0.65"/><path d="M70.10 161.63V192.65" stroke="#fff" stroke-width="0.55"/><path d="M73.09 161.63V192.65" stroke="#fff" stroke-width="0.65"/><path d="M76.08 161.63V192.65" stroke="#fff" stroke-width="0.55"/><path d="M79.08 161.63V192.65" stroke="#fff" stroke-width="0.65"/><path d="M82.07 161.63V192.65" stroke="#fff" stroke-width="0.55"/><path d="M85.06 161.63V192.65" stroke="#fff" stroke-width="0.65"/><path d="M88.05 161.63V192.65" stroke="#fff" stroke-width="0.55"/><path d="M91.04 161.63V192.65" stroke="#fff" stroke-width="0.65"/><path d="M94.03 161.63V192.65" stroke="#fff" stroke-width="0.55"/><path d="M97.03 161.63V192.65" stroke="#fff" stroke-width="0.65"/><path d="M100.02 161.63V192.65" stroke="#fff" stroke-width="0.55"/><path d="M103.01 161.63V192.65" stroke="#fff" stroke-width="0.65"/><path d="M106.00 161.63V192.65" stroke="#fff" stroke-width="0.55"/>
<rect x="34.62" y="168.13" width="5.15" height="23.11" fill="#8DD3C7"/>
<rect x="40.60" y="167.29" width="5.15" height="23.95" fill="#FFFFB3"/>
<rect x="46.58" y="168.98" width="5.15" height="22.26" fill="#BEBADA"/>
<rect x="52.57" y="168.13" width="5.15" height="23.11" fill="#FB8072"/>
<rect x="58.55" y="163.34" width="5.15" height="27.90" fill="#80B1D3"/>
<rect x="64.54" y="167.99" width="5.15" height="23.25" fill="#FDB462"/>
<rect x="70.52" y="167.99" width="5.15" height="23.25" fill="#B3DE69"/>
<rect x="76.50" y="167.99" width="5.15" height="23.25" fill="#FCCDE5"/>
<rect x="82.49" y="167.99" width="5.15" height="23.25" fill="#D9D9D9"/>
<rect x="88.47" y="166.02" width="5.15" height="25.22" fill="#BC80BD"/>
<rect x="94.45" y="168.13" width="5.15" height="23.11" fill="#CCEBC5"/>
<rect x="100.44" y="166.16" width="5.15" height="25.08" fill="#FFED6F"/>
<rect x="111.6" y="161.63" width="73.0" height="31.02" fill="#EBEBEB"/>
<path d="M111.6 191.24h73.0" stroke="#fff" stroke-width="0.65"/><path d="M111.6 187.71h73.0" stroke="#fff" stroke-width="0.55"/><path d="M111.6 184.19h73.0" stroke="#fff" stroke-width="0.65"/><path d="M111.6 180.66h73.0" stroke="#fff" stroke-width="0.55"/><path d="M111.6 177.14h73.0" stroke="#fff" stroke-width="0.65"/><path d="M111.6 173.61h73.0" stroke="#fff" stroke-width="0.55"/><path d="M111.6 170.09h73.0" stroke="#fff" stroke-width="0.65"/><path d="M111.6 166.56h73.0" stroke="#fff" stroke-width="0.55"/><path d="M111.6 163.04h73.0" stroke="#fff" stroke-width="0.65"/><path d="M115.19 161.63V192.65" stroke="#fff" stroke-width="0.65"/><path d="M118.18 161.63V192.65" stroke="#fff" stroke-width="0.55"/><path d="M121.17 161.63V192.65" stroke="#fff" stroke-width="0.65"/><path d="M124.17 161.63V192.65" stroke="#fff" stroke-width="0.55"/><path d="M127.16 161.63V192.65" stroke="#fff" stroke-width="0.65"/><path d="M130.15 161.63V192.65" stroke="#fff" stroke-width="0.55"/><path d="M133.14 161.63V192.65" stroke="#fff" stroke-width="0.65"/><path d="M136.13 161.63V192.65" stroke="#fff" stroke-width="0.55"/><path d="M139.12 161.63V192.65" stroke="#fff" stroke-width="0.65"/><path d="M142.12 161.63V192.65" stroke="#fff" stroke-width="0.55"/><path d="M145.11 161.63V192.65" stroke="#fff" stroke-width="0.65"/><path d="M148.10 161.63V192.65" stroke="#fff" stroke-width="0.55"/><path d="M151.09 161.63V192.65" stroke="#fff" stroke-width="0.65"/><path d="M154.08 161.63V192.65" stroke="#fff" stroke-width="0.55"/><path d="M157.08 161.63V192.65" stroke="#fff" stroke-width="0.65"/><path d="M160.07 161.63V192.65" stroke="#fff" stroke-width="0.55"/><path d="M163.06 161.63V192.65" stroke="#fff" stroke-width="0.65"/><path d="M166.05 161.63V192.65" stroke="#fff" stroke-width="0.55"/><path d="M169.04 161.63V192.65" stroke="#fff" stroke-width="0.65"/><path d="M172.03 161.63V192.65" stroke="#fff" stroke-width="0.55"/><path d="M175.03 161.63V192.65" stroke="#fff" stroke-width="0.65"/><path d="M178.02 161.63V192.65" stroke="#fff" stroke-width="0.55"/><path d="M181.01 161.63V192.65" stroke="#fff" stroke-width="0.65"/><path d="M184.00 161.63V192.65" stroke="#fff" stroke-width="0.55"/>
<rect x="112.62" y="176.03" width="5.15" height="15.21" fill="#8DD3C7"/>
<rect x="118.60" y="176.03" width="5.15" height="15.21" fill="#FFFFB3"/>
<rect x="124.58" y="176.59" width="5.15" height="14.65" fill="#BEBADA"/>
<rect x="130.57" y="176.03" width="5.15" height="15.21" fill="#FB8072"/>
<rect x="136.55" y="183.64" width="5.15" height="7.60" fill="#80B1D3"/>
<rect x="142.54" y="176.03" width="5.15" height="15.21" fill="#FDB462"/>
<rect x="148.52" y="176.03" width="5.15" height="15.21" fill="#B3DE69"/>
<rect x="154.50" y="176.03" width="5.15" height="15.21" fill="#FCCDE5"/>
<rect x="160.49" y="176.03" width="5.15" height="15.21" fill="#D9D9D9"/>
<rect x="166.47" y="172.08" width="5.15" height="19.16" fill="#BC80BD"/>
<rect x="172.45" y="176.03" width="5.15" height="15.21" fill="#CCEBC5"/>
<rect x="178.44" y="171.80" width="5.15" height="19.44" fill="#FFED6F"/>
<rect x="188.9" y="161.63" width="73.0" height="31.02" fill="#EBEBEB"/>
<path d="M188.9 191.24h73.0" stroke="#fff" stroke-width="0.65"/><path d="M188.9 187.71h73.0" stroke="#fff" stroke-width="0.55"/><path d="M188.9 184.19h73.0" stroke="#fff" stroke-width="0.65"/><path d="M188.9 180.66h73.0" stroke="#fff" stroke-width="0.55"/><path d="M188.9 177.14h73.0" stroke="#fff" stroke-width="0.65"/><path d="M188.9 173.61h73.0" stroke="#fff" stroke-width="0.55"/><path d="M188.9 170.09h73.0" stroke="#fff" stroke-width="0.65"/><path d="M188.9 166.56h73.0" stroke="#fff" stroke-width="0.55"/><path d="M188.9 163.04h73.0" stroke="#fff" stroke-width="0.65"/><path d="M192.49 161.63V192.65" stroke="#fff" stroke-width="0.65"/><path d="M195.48 161.63V192.65" stroke="#fff" stroke-width="0.55"/><path d="M198.47 161.63V192.65" stroke="#fff" stroke-width="0.65"/><path d="M201.47 161.63V192.65" stroke="#fff" stroke-width="0.55"/><path d="M204.46 161.63V192.65" stroke="#fff" stroke-width="0.65"/><path d="M207.45 161.63V192.65" stroke="#fff" stroke-width="0.55"/><path d="M210.44 161.63V192.65" stroke="#fff" stroke-width="0.65"/><path d="M213.43 161.63V192.65" stroke="#fff" stroke-width="0.55"/><path d="M216.42 161.63V192.65" stroke="#fff" stroke-width="0.65"/><path d="M219.42 161.63V192.65" stroke="#fff" stroke-width="0.55"/><path d="M222.41 161.63V192.65" stroke="#fff" stroke-width="0.65"/><path d="M225.40 161.63V192.65" stroke="#fff" stroke-width="0.55"/><path d="M228.39 161.63V192.65" stroke="#fff" stroke-width="0.65"/><path d="M231.38 161.63V192.65" stroke="#fff" stroke-width="0.55"/><path d="M234.38 161.63V192.65" stroke="#fff" stroke-width="0.65"/><path d="M237.37 161.63V192.65" stroke="#fff" stroke-width="0.55"/><path d="M240.36 161.63V192.65" stroke="#fff" stroke-width="0.65"/><path d="M243.35 161.63V192.65" stroke="#fff" stroke-width="0.55"/><path d="M246.34 161.63V192.65" stroke="#fff" stroke-width="0.65"/><path d="M249.33 161.63V192.65" stroke="#fff" stroke-width="0.55"/><path d="M252.33 161.63V192.65" stroke="#fff" stroke-width="0.65"/><path d="M255.32 161.63V192.65" stroke="#fff" stroke-width="0.55"/><path d="M258.31 161.63V192.65" stroke="#fff" stroke-width="0.65"/><path d="M261.30 161.63V192.65" stroke="#fff" stroke-width="0.55"/>
<rect x="189.92" y="189.00" width="5.15" height="2.24" fill="#8DD3C7"/>
<rect x="195.90" y="188.16" width="5.15" height="3.08" fill="#FFFFB3"/>
<rect x="201.88" y="189.57" width="5.15" height="1.67" fill="#BEBADA"/>
<rect x="207.87" y="188.72" width="5.15" height="2.52" fill="#FB8072"/>
<rect x="213.85" y="191.01" width="5.15" height="0.23" fill="#80B1D3"/>
<rect x="219.84" y="188.72" width="5.15" height="2.52" fill="#FDB462"/>
<rect x="225.82" y="188.72" width="5.15" height="2.52" fill="#B3DE69"/>
<rect x="231.80" y="188.16" width="5.15" height="3.08" fill="#FCCDE5"/>
<rect x="237.79" y="189.28" width="5.15" height="1.96" fill="#D9D9D9"/>
<rect x="243.77" y="188.44" width="5.15" height="2.80" fill="#BC80BD"/>
<rect x="249.75" y="187.03" width="5.15" height="4.21" fill="#CCEBC5"/>
<rect x="255.74" y="187.87" width="5.15" height="3.37" fill="#FFED6F"/>
<rect x="262.0" y="161.63" width="13.70" height="31.02" fill="#D9D9D9"/>
<text transform="translate(265.9 167.10) rotate(90)" font-size="7.2" fill="#1A1A1A" textLength="20.9" lengthAdjust="spacingAndGlyphs"><tspan font-style="italic">n</tspan>=100</text>
<path d="M31.8 191.24H33.6" stroke="#333" stroke-width="0.9"/>
<text x="16.7" y="193.79" font-size="6.9" fill="#4D4D4D" textLength="13.2" lengthAdjust="spacingAndGlyphs">0.00</text>
<path d="M31.8 184.19H33.6" stroke="#333" stroke-width="0.9"/>
<text x="16.7" y="186.74" font-size="6.9" fill="#4D4D4D" textLength="13.2" lengthAdjust="spacingAndGlyphs">0.25</text>
<path d="M31.8 177.14H33.6" stroke="#333" stroke-width="0.9"/>
<text x="16.7" y="179.69" font-size="6.9" fill="#4D4D4D" textLength="13.2" lengthAdjust="spacingAndGlyphs">0.50</text>
<path d="M31.8 170.09H33.6" stroke="#333" stroke-width="0.9"/>
<text x="16.7" y="172.64" font-size="6.9" fill="#4D4D4D" textLength="13.2" lengthAdjust="spacingAndGlyphs">0.75</text>
<path d="M31.8 163.04H33.6" stroke="#333" stroke-width="0.9"/>
<text x="16.7" y="165.59" font-size="6.9" fill="#4D4D4D" textLength="13.2" lengthAdjust="spacingAndGlyphs">1.00</text>
<rect x="33.6" y="196.96" width="73.0" height="31.02" fill="#EBEBEB"/>
<path d="M33.6 226.57h73.0" stroke="#fff" stroke-width="0.65"/><path d="M33.6 223.04h73.0" stroke="#fff" stroke-width="0.55"/><path d="M33.6 219.52h73.0" stroke="#fff" stroke-width="0.65"/><path d="M33.6 215.99h73.0" stroke="#fff" stroke-width="0.55"/><path d="M33.6 212.47h73.0" stroke="#fff" stroke-width="0.65"/><path d="M33.6 208.94h73.0" stroke="#fff" stroke-width="0.55"/><path d="M33.6 205.42h73.0" stroke="#fff" stroke-width="0.65"/><path d="M33.6 201.89h73.0" stroke="#fff" stroke-width="0.55"/><path d="M33.6 198.37h73.0" stroke="#fff" stroke-width="0.65"/><path d="M37.19 196.96V227.98" stroke="#fff" stroke-width="0.65"/><path d="M40.18 196.96V227.98" stroke="#fff" stroke-width="0.55"/><path d="M43.17 196.96V227.98" stroke="#fff" stroke-width="0.65"/><path d="M46.17 196.96V227.98" stroke="#fff" stroke-width="0.55"/><path d="M49.16 196.96V227.98" stroke="#fff" stroke-width="0.65"/><path d="M52.15 196.96V227.98" stroke="#fff" stroke-width="0.55"/><path d="M55.14 196.96V227.98" stroke="#fff" stroke-width="0.65"/><path d="M58.13 196.96V227.98" stroke="#fff" stroke-width="0.55"/><path d="M61.12 196.96V227.98" stroke="#fff" stroke-width="0.65"/><path d="M64.12 196.96V227.98" stroke="#fff" stroke-width="0.55"/><path d="M67.11 196.96V227.98" stroke="#fff" stroke-width="0.65"/><path d="M70.10 196.96V227.98" stroke="#fff" stroke-width="0.55"/><path d="M73.09 196.96V227.98" stroke="#fff" stroke-width="0.65"/><path d="M76.08 196.96V227.98" stroke="#fff" stroke-width="0.55"/><path d="M79.08 196.96V227.98" stroke="#fff" stroke-width="0.65"/><path d="M82.07 196.96V227.98" stroke="#fff" stroke-width="0.55"/><path d="M85.06 196.96V227.98" stroke="#fff" stroke-width="0.65"/><path d="M88.05 196.96V227.98" stroke="#fff" stroke-width="0.55"/><path d="M91.04 196.96V227.98" stroke="#fff" stroke-width="0.65"/><path d="M94.03 196.96V227.98" stroke="#fff" stroke-width="0.55"/><path d="M97.03 196.96V227.98" stroke="#fff" stroke-width="0.65"/><path d="M100.02 196.96V227.98" stroke="#fff" stroke-width="0.55"/><path d="M103.01 196.96V227.98" stroke="#fff" stroke-width="0.65"/><path d="M106.00 196.96V227.98" stroke="#fff" stroke-width="0.55"/>
<rect x="34.62" y="201.62" width="5.15" height="24.95" fill="#8DD3C7"/>
<rect x="40.60" y="201.34" width="5.15" height="25.23" fill="#FFFFB3"/>
<rect x="46.58" y="202.47" width="5.15" height="24.10" fill="#BEBADA"/>
<rect x="52.57" y="201.34" width="5.15" height="25.23" fill="#FB8072"/>
<rect x="58.55" y="198.80" width="5.15" height="27.77" fill="#80B1D3"/>
<rect x="64.54" y="201.34" width="5.15" height="25.23" fill="#FDB462"/>
<rect x="70.52" y="201.34" width="5.15" height="25.23" fill="#B3DE69"/>
<rect x="76.50" y="201.34" width="5.15" height="25.23" fill="#FCCDE5"/>
<rect x="82.49" y="201.34" width="5.15" height="25.23" fill="#D9D9D9"/>
<rect x="88.47" y="200.35" width="5.15" height="26.22" fill="#BC80BD"/>
<rect x="94.45" y="201.34" width="5.15" height="25.23" fill="#CCEBC5"/>
<rect x="100.44" y="200.35" width="5.15" height="26.22" fill="#FFED6F"/>
<rect x="111.6" y="196.96" width="73.0" height="31.02" fill="#EBEBEB"/>
<path d="M111.6 226.57h73.0" stroke="#fff" stroke-width="0.65"/><path d="M111.6 223.04h73.0" stroke="#fff" stroke-width="0.55"/><path d="M111.6 219.52h73.0" stroke="#fff" stroke-width="0.65"/><path d="M111.6 215.99h73.0" stroke="#fff" stroke-width="0.55"/><path d="M111.6 212.47h73.0" stroke="#fff" stroke-width="0.65"/><path d="M111.6 208.94h73.0" stroke="#fff" stroke-width="0.55"/><path d="M111.6 205.42h73.0" stroke="#fff" stroke-width="0.65"/><path d="M111.6 201.89h73.0" stroke="#fff" stroke-width="0.55"/><path d="M111.6 198.37h73.0" stroke="#fff" stroke-width="0.65"/><path d="M115.19 196.96V227.98" stroke="#fff" stroke-width="0.65"/><path d="M118.18 196.96V227.98" stroke="#fff" stroke-width="0.55"/><path d="M121.17 196.96V227.98" stroke="#fff" stroke-width="0.65"/><path d="M124.17 196.96V227.98" stroke="#fff" stroke-width="0.55"/><path d="M127.16 196.96V227.98" stroke="#fff" stroke-width="0.65"/><path d="M130.15 196.96V227.98" stroke="#fff" stroke-width="0.55"/><path d="M133.14 196.96V227.98" stroke="#fff" stroke-width="0.65"/><path d="M136.13 196.96V227.98" stroke="#fff" stroke-width="0.55"/><path d="M139.12 196.96V227.98" stroke="#fff" stroke-width="0.65"/><path d="M142.12 196.96V227.98" stroke="#fff" stroke-width="0.55"/><path d="M145.11 196.96V227.98" stroke="#fff" stroke-width="0.65"/><path d="M148.10 196.96V227.98" stroke="#fff" stroke-width="0.55"/><path d="M151.09 196.96V227.98" stroke="#fff" stroke-width="0.65"/><path d="M154.08 196.96V227.98" stroke="#fff" stroke-width="0.55"/><path d="M157.08 196.96V227.98" stroke="#fff" stroke-width="0.65"/><path d="M160.07 196.96V227.98" stroke="#fff" stroke-width="0.55"/><path d="M163.06 196.96V227.98" stroke="#fff" stroke-width="0.65"/><path d="M166.05 196.96V227.98" stroke="#fff" stroke-width="0.55"/><path d="M169.04 196.96V227.98" stroke="#fff" stroke-width="0.65"/><path d="M172.03 196.96V227.98" stroke="#fff" stroke-width="0.55"/><path d="M175.03 196.96V227.98" stroke="#fff" stroke-width="0.65"/><path d="M178.02 196.96V227.98" stroke="#fff" stroke-width="0.55"/><path d="M181.01 196.96V227.98" stroke="#fff" stroke-width="0.65"/><path d="M184.00 196.96V227.98" stroke="#fff" stroke-width="0.55"/>
<rect x="112.62" y="205.57" width="5.15" height="21.00" fill="#8DD3C7"/>
<rect x="118.60" y="205.57" width="5.15" height="21.00" fill="#FFFFB3"/>
<rect x="124.58" y="206.41" width="5.15" height="20.16" fill="#BEBADA"/>
<rect x="130.57" y="205.00" width="5.15" height="21.57" fill="#FB8072"/>
<rect x="136.55" y="214.87" width="5.15" height="11.70" fill="#80B1D3"/>
<rect x="142.54" y="204.72" width="5.15" height="21.85" fill="#FDB462"/>
<rect x="148.52" y="204.72" width="5.15" height="21.85" fill="#B3DE69"/>
<rect x="154.50" y="205.00" width="5.15" height="21.57" fill="#FCCDE5"/>
<rect x="160.49" y="205.00" width="5.15" height="21.57" fill="#D9D9D9"/>
<rect x="166.47" y="203.03" width="5.15" height="23.54" fill="#BC80BD"/>
<rect x="172.45" y="205.00" width="5.15" height="21.57" fill="#CCEBC5"/>
<rect x="178.44" y="203.03" width="5.15" height="23.54" fill="#FFED6F"/>
<rect x="188.9" y="196.96" width="73.0" height="31.02" fill="#EBEBEB"/>
<path d="M188.9 226.57h73.0" stroke="#fff" stroke-width="0.65"/><path d="M188.9 223.04h73.0" stroke="#fff" stroke-width="0.55"/><path d="M188.9 219.52h73.0" stroke="#fff" stroke-width="0.65"/><path d="M188.9 215.99h73.0" stroke="#fff" stroke-width="0.55"/><path d="M188.9 212.47h73.0" stroke="#fff" stroke-width="0.65"/><path d="M188.9 208.94h73.0" stroke="#fff" stroke-width="0.55"/><path d="M188.9 205.42h73.0" stroke="#fff" stroke-width="0.65"/><path d="M188.9 201.89h73.0" stroke="#fff" stroke-width="0.55"/><path d="M188.9 198.37h73.0" stroke="#fff" stroke-width="0.65"/><path d="M192.49 196.96V227.98" stroke="#fff" stroke-width="0.65"/><path d="M195.48 196.96V227.98" stroke="#fff" stroke-width="0.55"/><path d="M198.47 196.96V227.98" stroke="#fff" stroke-width="0.65"/><path d="M201.47 196.96V227.98" stroke="#fff" stroke-width="0.55"/><path d="M204.46 196.96V227.98" stroke="#fff" stroke-width="0.65"/><path d="M207.45 196.96V227.98" stroke="#fff" stroke-width="0.55"/><path d="M210.44 196.96V227.98" stroke="#fff" stroke-width="0.65"/><path d="M213.43 196.96V227.98" stroke="#fff" stroke-width="0.55"/><path d="M216.42 196.96V227.98" stroke="#fff" stroke-width="0.65"/><path d="M219.42 196.96V227.98" stroke="#fff" stroke-width="0.55"/><path d="M222.41 196.96V227.98" stroke="#fff" stroke-width="0.65"/><path d="M225.40 196.96V227.98" stroke="#fff" stroke-width="0.55"/><path d="M228.39 196.96V227.98" stroke="#fff" stroke-width="0.65"/><path d="M231.38 196.96V227.98" stroke="#fff" stroke-width="0.55"/><path d="M234.38 196.96V227.98" stroke="#fff" stroke-width="0.65"/><path d="M237.37 196.96V227.98" stroke="#fff" stroke-width="0.55"/><path d="M240.36 196.96V227.98" stroke="#fff" stroke-width="0.65"/><path d="M243.35 196.96V227.98" stroke="#fff" stroke-width="0.55"/><path d="M246.34 196.96V227.98" stroke="#fff" stroke-width="0.65"/><path d="M249.33 196.96V227.98" stroke="#fff" stroke-width="0.55"/><path d="M252.33 196.96V227.98" stroke="#fff" stroke-width="0.65"/><path d="M255.32 196.96V227.98" stroke="#fff" stroke-width="0.55"/><path d="M258.31 196.96V227.98" stroke="#fff" stroke-width="0.65"/><path d="M261.30 196.96V227.98" stroke="#fff" stroke-width="0.55"/>
<rect x="189.92" y="215.01" width="5.15" height="11.55" fill="#8DD3C7"/>
<rect x="195.90" y="214.31" width="5.15" height="12.26" fill="#FFFFB3"/>
<rect x="201.88" y="215.72" width="5.15" height="10.85" fill="#BEBADA"/>
<rect x="207.87" y="214.31" width="5.15" height="12.26" fill="#FB8072"/>
<rect x="213.85" y="225.59" width="5.15" height="0.98" fill="#80B1D3"/>
<rect x="219.84" y="214.03" width="5.15" height="12.54" fill="#FDB462"/>
<rect x="225.82" y="213.60" width="5.15" height="12.96" fill="#B3DE69"/>
<rect x="231.80" y="214.03" width="5.15" height="12.54" fill="#FCCDE5"/>
<rect x="237.79" y="214.03" width="5.15" height="12.54" fill="#D9D9D9"/>
<rect x="243.77" y="210.36" width="5.15" height="16.21" fill="#BC80BD"/>
<rect x="249.75" y="213.60" width="5.15" height="12.96" fill="#CCEBC5"/>
<rect x="255.74" y="210.08" width="5.15" height="16.49" fill="#FFED6F"/>
<rect x="262.0" y="196.96" width="13.70" height="31.02" fill="#D9D9D9"/>
<text transform="translate(265.9 204.24) rotate(90)" font-size="7.2" fill="#1A1A1A" textLength="17.3" lengthAdjust="spacingAndGlyphs"><tspan font-style="italic">n</tspan>=50</text>
<path d="M31.8 226.57H33.6" stroke="#333" stroke-width="0.9"/>
<text x="16.7" y="229.12" font-size="6.9" fill="#4D4D4D" textLength="13.2" lengthAdjust="spacingAndGlyphs">0.00</text>
<path d="M31.8 219.52H33.6" stroke="#333" stroke-width="0.9"/>
<text x="16.7" y="222.07" font-size="6.9" fill="#4D4D4D" textLength="13.2" lengthAdjust="spacingAndGlyphs">0.25</text>
<path d="M31.8 212.47H33.6" stroke="#333" stroke-width="0.9"/>
<text x="16.7" y="215.02" font-size="6.9" fill="#4D4D4D" textLength="13.2" lengthAdjust="spacingAndGlyphs">0.50</text>
<path d="M31.8 205.42H33.6" stroke="#333" stroke-width="0.9"/>
<text x="16.7" y="207.97" font-size="6.9" fill="#4D4D4D" textLength="13.2" lengthAdjust="spacingAndGlyphs">0.75</text>
<path d="M31.8 198.37H33.6" stroke="#333" stroke-width="0.9"/>
<text x="16.7" y="200.92" font-size="6.9" fill="#4D4D4D" textLength="13.2" lengthAdjust="spacingAndGlyphs">1.00</text>
<rect x="33.6" y="232.29" width="73.0" height="31.02" fill="#EBEBEB"/>
<path d="M33.6 261.90h73.0" stroke="#fff" stroke-width="0.65"/><path d="M33.6 258.38h73.0" stroke="#fff" stroke-width="0.55"/><path d="M33.6 254.85h73.0" stroke="#fff" stroke-width="0.65"/><path d="M33.6 251.32h73.0" stroke="#fff" stroke-width="0.55"/><path d="M33.6 247.80h73.0" stroke="#fff" stroke-width="0.65"/><path d="M33.6 244.27h73.0" stroke="#fff" stroke-width="0.55"/><path d="M33.6 240.75h73.0" stroke="#fff" stroke-width="0.65"/><path d="M33.6 237.22h73.0" stroke="#fff" stroke-width="0.55"/><path d="M33.6 233.70h73.0" stroke="#fff" stroke-width="0.65"/><path d="M37.19 232.29V263.31" stroke="#fff" stroke-width="0.65"/><path d="M40.18 232.29V263.31" stroke="#fff" stroke-width="0.55"/><path d="M43.17 232.29V263.31" stroke="#fff" stroke-width="0.65"/><path d="M46.17 232.29V263.31" stroke="#fff" stroke-width="0.55"/><path d="M49.16 232.29V263.31" stroke="#fff" stroke-width="0.65"/><path d="M52.15 232.29V263.31" stroke="#fff" stroke-width="0.55"/><path d="M55.14 232.29V263.31" stroke="#fff" stroke-width="0.65"/><path d="M58.13 232.29V263.31" stroke="#fff" stroke-width="0.55"/><path d="M61.12 232.29V263.31" stroke="#fff" stroke-width="0.65"/><path d="M64.12 232.29V263.31" stroke="#fff" stroke-width="0.55"/><path d="M67.11 232.29V263.31" stroke="#fff" stroke-width="0.65"/><path d="M70.10 232.29V263.31" stroke="#fff" stroke-width="0.55"/><path d="M73.09 232.29V263.31" stroke="#fff" stroke-width="0.65"/><path d="M76.08 232.29V263.31" stroke="#fff" stroke-width="0.55"/><path d="M79.08 232.29V263.31" stroke="#fff" stroke-width="0.65"/><path d="M82.07 232.29V263.31" stroke="#fff" stroke-width="0.55"/><path d="M85.06 232.29V263.31" stroke="#fff" stroke-width="0.65"/><path d="M88.05 232.29V263.31" stroke="#fff" stroke-width="0.55"/><path d="M91.04 232.29V263.31" stroke="#fff" stroke-width="0.65"/><path d="M94.03 232.29V263.31" stroke="#fff" stroke-width="0.55"/><path d="M97.03 232.29V263.31" stroke="#fff" stroke-width="0.65"/><path d="M100.02 232.29V263.31" stroke="#fff" stroke-width="0.55"/><path d="M103.01 232.29V263.31" stroke="#fff" stroke-width="0.65"/><path d="M106.00 232.29V263.31" stroke="#fff" stroke-width="0.55"/>
<rect x="34.62" y="236.52" width="5.15" height="25.38" fill="#8DD3C7"/>
<rect x="40.60" y="236.37" width="5.15" height="25.52" fill="#FFFFB3"/>
<rect x="46.58" y="237.36" width="5.15" height="24.54" fill="#BEBADA"/>
<rect x="52.57" y="236.37" width="5.15" height="25.52" fill="#FB8072"/>
<rect x="58.55" y="234.26" width="5.15" height="27.64" fill="#80B1D3"/>
<rect x="64.54" y="236.37" width="5.15" height="25.52" fill="#FDB462"/>
<rect x="70.52" y="236.23" width="5.15" height="25.67" fill="#B3DE69"/>
<rect x="76.50" y="236.23" width="5.15" height="25.67" fill="#FCCDE5"/>
<rect x="82.49" y="236.37" width="5.15" height="25.52" fill="#D9D9D9"/>
<rect x="88.47" y="235.67" width="5.15" height="26.23" fill="#BC80BD"/>
<rect x="94.45" y="236.37" width="5.15" height="25.52" fill="#CCEBC5"/>
<rect x="100.44" y="235.67" width="5.15" height="26.23" fill="#FFED6F"/>
<rect x="111.6" y="232.29" width="73.0" height="31.02" fill="#EBEBEB"/>
<path d="M111.6 261.90h73.0" stroke="#fff" stroke-width="0.65"/><path d="M111.6 258.38h73.0" stroke="#fff" stroke-width="0.55"/><path d="M111.6 254.85h73.0" stroke="#fff" stroke-width="0.65"/><path d="M111.6 251.32h73.0" stroke="#fff" stroke-width="0.55"/><path d="M111.6 247.80h73.0" stroke="#fff" stroke-width="0.65"/><path d="M111.6 244.27h73.0" stroke="#fff" stroke-width="0.55"/><path d="M111.6 240.75h73.0" stroke="#fff" stroke-width="0.65"/><path d="M111.6 237.22h73.0" stroke="#fff" stroke-width="0.55"/><path d="M111.6 233.70h73.0" stroke="#fff" stroke-width="0.65"/><path d="M115.19 232.29V263.31" stroke="#fff" stroke-width="0.65"/><path d="M118.18 232.29V263.31" stroke="#fff" stroke-width="0.55"/><path d="M121.17 232.29V263.31" stroke="#fff" stroke-width="0.65"/><path d="M124.17 232.29V263.31" stroke="#fff" stroke-width="0.55"/><path d="M127.16 232.29V263.31" stroke="#fff" stroke-width="0.65"/><path d="M130.15 232.29V263.31" stroke="#fff" stroke-width="0.55"/><path d="M133.14 232.29V263.31" stroke="#fff" stroke-width="0.65"/><path d="M136.13 232.29V263.31" stroke="#fff" stroke-width="0.55"/><path d="M139.12 232.29V263.31" stroke="#fff" stroke-width="0.65"/><path d="M142.12 232.29V263.31" stroke="#fff" stroke-width="0.55"/><path d="M145.11 232.29V263.31" stroke="#fff" stroke-width="0.65"/><path d="M148.10 232.29V263.31" stroke="#fff" stroke-width="0.55"/><path d="M151.09 232.29V263.31" stroke="#fff" stroke-width="0.65"/><path d="M154.08 232.29V263.31" stroke="#fff" stroke-width="0.55"/><path d="M157.08 232.29V263.31" stroke="#fff" stroke-width="0.65"/><path d="M160.07 232.29V263.31" stroke="#fff" stroke-width="0.55"/><path d="M163.06 232.29V263.31" stroke="#fff" stroke-width="0.65"/><path d="M166.05 232.29V263.31" stroke="#fff" stroke-width="0.55"/><path d="M169.04 232.29V263.31" stroke="#fff" stroke-width="0.65"/><path d="M172.03 232.29V263.31" stroke="#fff" stroke-width="0.55"/><path d="M175.03 232.29V263.31" stroke="#fff" stroke-width="0.65"/><path d="M178.02 232.29V263.31" stroke="#fff" stroke-width="0.55"/><path d="M181.01 232.29V263.31" stroke="#fff" stroke-width="0.65"/><path d="M184.00 232.29V263.31" stroke="#fff" stroke-width="0.55"/>
<rect x="112.62" y="237.93" width="5.15" height="23.97" fill="#8DD3C7"/>
<rect x="118.60" y="237.93" width="5.15" height="23.97" fill="#FFFFB3"/>
<rect x="124.58" y="238.49" width="5.15" height="23.41" fill="#BEBADA"/>
<rect x="130.57" y="237.36" width="5.15" height="24.54" fill="#FB8072"/>
<rect x="136.55" y="241.03" width="5.15" height="20.87" fill="#80B1D3"/>
<rect x="142.54" y="237.08" width="5.15" height="24.82" fill="#FDB462"/>
<rect x="148.52" y="237.08" width="5.15" height="24.82" fill="#B3DE69"/>
<rect x="154.50" y="237.08" width="5.15" height="24.82" fill="#FCCDE5"/>
<rect x="160.49" y="237.08" width="5.15" height="24.82" fill="#D9D9D9"/>
<rect x="166.47" y="235.95" width="5.15" height="25.95" fill="#BC80BD"/>
<rect x="172.45" y="237.36" width="5.15" height="24.54" fill="#CCEBC5"/>
<rect x="178.44" y="235.95" width="5.15" height="25.95" fill="#FFED6F"/>
<rect x="188.9" y="232.29" width="73.0" height="31.02" fill="#EBEBEB"/>
<path d="M188.9 261.90h73.0" stroke="#fff" stroke-width="0.65"/><path d="M188.9 258.38h73.0" stroke="#fff" stroke-width="0.55"/><path d="M188.9 254.85h73.0" stroke="#fff" stroke-width="0.65"/><path d="M188.9 251.32h73.0" stroke="#fff" stroke-width="0.55"/><path d="M188.9 247.80h73.0" stroke="#fff" stroke-width="0.65"/><path d="M188.9 244.27h73.0" stroke="#fff" stroke-width="0.55"/><path d="M188.9 240.75h73.0" stroke="#fff" stroke-width="0.65"/><path d="M188.9 237.22h73.0" stroke="#fff" stroke-width="0.55"/><path d="M188.9 233.70h73.0" stroke="#fff" stroke-width="0.65"/><path d="M192.49 232.29V263.31" stroke="#fff" stroke-width="0.65"/><path d="M195.48 232.29V263.31" stroke="#fff" stroke-width="0.55"/><path d="M198.47 232.29V263.31" stroke="#fff" stroke-width="0.65"/><path d="M201.47 232.29V263.31" stroke="#fff" stroke-width="0.55"/><path d="M204.46 232.29V263.31" stroke="#fff" stroke-width="0.65"/><path d="M207.45 232.29V263.31" stroke="#fff" stroke-width="0.55"/><path d="M210.44 232.29V263.31" stroke="#fff" stroke-width="0.65"/><path d="M213.43 232.29V263.31" stroke="#fff" stroke-width="0.55"/><path d="M216.42 232.29V263.31" stroke="#fff" stroke-width="0.65"/><path d="M219.42 232.29V263.31" stroke="#fff" stroke-width="0.55"/><path d="M222.41 232.29V263.31" stroke="#fff" stroke-width="0.65"/><path d="M225.40 232.29V263.31" stroke="#fff" stroke-width="0.55"/><path d="M228.39 232.29V263.31" stroke="#fff" stroke-width="0.65"/><path d="M231.38 232.29V263.31" stroke="#fff" stroke-width="0.55"/><path d="M234.38 232.29V263.31" stroke="#fff" stroke-width="0.65"/><path d="M237.37 232.29V263.31" stroke="#fff" stroke-width="0.55"/><path d="M240.36 232.29V263.31" stroke="#fff" stroke-width="0.65"/><path d="M243.35 232.29V263.31" stroke="#fff" stroke-width="0.55"/><path d="M246.34 232.29V263.31" stroke="#fff" stroke-width="0.65"/><path d="M249.33 232.29V263.31" stroke="#fff" stroke-width="0.55"/><path d="M252.33 232.29V263.31" stroke="#fff" stroke-width="0.65"/><path d="M255.32 232.29V263.31" stroke="#fff" stroke-width="0.55"/><path d="M258.31 232.29V263.31" stroke="#fff" stroke-width="0.65"/><path d="M261.30 232.29V263.31" stroke="#fff" stroke-width="0.55"/>
<rect x="189.92" y="240.46" width="5.15" height="21.44" fill="#8DD3C7"/>
<rect x="195.90" y="239.90" width="5.15" height="22.00" fill="#FFFFB3"/>
<rect x="201.88" y="241.59" width="5.15" height="20.31" fill="#BEBADA"/>
<rect x="207.87" y="239.34" width="5.15" height="22.56" fill="#FB8072"/>
<rect x="213.85" y="252.03" width="5.15" height="9.87" fill="#80B1D3"/>
<rect x="219.84" y="239.05" width="5.15" height="22.85" fill="#FDB462"/>
<rect x="225.82" y="239.05" width="5.15" height="22.85" fill="#B3DE69"/>
<rect x="231.80" y="239.05" width="5.15" height="22.85" fill="#FCCDE5"/>
<rect x="237.79" y="239.34" width="5.15" height="22.56" fill="#D9D9D9"/>
<rect x="243.77" y="237.08" width="5.15" height="24.82" fill="#BC80BD"/>
<rect x="249.75" y="239.34" width="5.15" height="22.56" fill="#CCEBC5"/>
<rect x="255.74" y="237.08" width="5.15" height="24.82" fill="#FFED6F"/>
<rect x="262.0" y="232.29" width="13.70" height="31.02" fill="#D9D9D9"/>
<text transform="translate(265.9 239.57) rotate(90)" font-size="7.2" fill="#1A1A1A" textLength="17.3" lengthAdjust="spacingAndGlyphs"><tspan font-style="italic">n</tspan>=25</text>
<path d="M31.8 261.90H33.6" stroke="#333" stroke-width="0.9"/>
<text x="16.7" y="264.45" font-size="6.9" fill="#4D4D4D" textLength="13.2" lengthAdjust="spacingAndGlyphs">0.00</text>
<path d="M31.8 254.85H33.6" stroke="#333" stroke-width="0.9"/>
<text x="16.7" y="257.40" font-size="6.9" fill="#4D4D4D" textLength="13.2" lengthAdjust="spacingAndGlyphs">0.25</text>
<path d="M31.8 247.80H33.6" stroke="#333" stroke-width="0.9"/>
<text x="16.7" y="250.35" font-size="6.9" fill="#4D4D4D" textLength="13.2" lengthAdjust="spacingAndGlyphs">0.50</text>
<path d="M31.8 240.75H33.6" stroke="#333" stroke-width="0.9"/>
<text x="16.7" y="243.30" font-size="6.9" fill="#4D4D4D" textLength="13.2" lengthAdjust="spacingAndGlyphs">0.75</text>
<path d="M31.8 233.70H33.6" stroke="#333" stroke-width="0.9"/>
<text x="16.7" y="236.25" font-size="6.9" fill="#4D4D4D" textLength="13.2" lengthAdjust="spacingAndGlyphs">1.00</text>
<rect x="33.6" y="267.62" width="73.0" height="31.02" fill="#EBEBEB"/>
<path d="M33.6 297.23h73.0" stroke="#fff" stroke-width="0.65"/><path d="M33.6 293.70h73.0" stroke="#fff" stroke-width="0.55"/><path d="M33.6 290.18h73.0" stroke="#fff" stroke-width="0.65"/><path d="M33.6 286.65h73.0" stroke="#fff" stroke-width="0.55"/><path d="M33.6 283.13h73.0" stroke="#fff" stroke-width="0.65"/><path d="M33.6 279.60h73.0" stroke="#fff" stroke-width="0.55"/><path d="M33.6 276.08h73.0" stroke="#fff" stroke-width="0.65"/><path d="M33.6 272.55h73.0" stroke="#fff" stroke-width="0.55"/><path d="M33.6 269.03h73.0" stroke="#fff" stroke-width="0.65"/><path d="M37.19 267.62V298.64" stroke="#fff" stroke-width="0.65"/><path d="M40.18 267.62V298.64" stroke="#fff" stroke-width="0.55"/><path d="M43.17 267.62V298.64" stroke="#fff" stroke-width="0.65"/><path d="M46.17 267.62V298.64" stroke="#fff" stroke-width="0.55"/><path d="M49.16 267.62V298.64" stroke="#fff" stroke-width="0.65"/><path d="M52.15 267.62V298.64" stroke="#fff" stroke-width="0.55"/><path d="M55.14 267.62V298.64" stroke="#fff" stroke-width="0.65"/><path d="M58.13 267.62V298.64" stroke="#fff" stroke-width="0.55"/><path d="M61.12 267.62V298.64" stroke="#fff" stroke-width="0.65"/><path d="M64.12 267.62V298.64" stroke="#fff" stroke-width="0.55"/><path d="M67.11 267.62V298.64" stroke="#fff" stroke-width="0.65"/><path d="M70.10 267.62V298.64" stroke="#fff" stroke-width="0.55"/><path d="M73.09 267.62V298.64" stroke="#fff" stroke-width="0.65"/><path d="M76.08 267.62V298.64" stroke="#fff" stroke-width="0.55"/><path d="M79.08 267.62V298.64" stroke="#fff" stroke-width="0.65"/><path d="M82.07 267.62V298.64" stroke="#fff" stroke-width="0.55"/><path d="M85.06 267.62V298.64" stroke="#fff" stroke-width="0.65"/><path d="M88.05 267.62V298.64" stroke="#fff" stroke-width="0.55"/><path d="M91.04 267.62V298.64" stroke="#fff" stroke-width="0.65"/><path d="M94.03 267.62V298.64" stroke="#fff" stroke-width="0.55"/><path d="M97.03 267.62V298.64" stroke="#fff" stroke-width="0.65"/><path d="M100.02 267.62V298.64" stroke="#fff" stroke-width="0.55"/><path d="M103.01 267.62V298.64" stroke="#fff" stroke-width="0.65"/><path d="M106.00 267.62V298.64" stroke="#fff" stroke-width="0.55"/>
<rect x="34.62" y="272.68" width="5.15" height="24.55" fill="#8DD3C7"/>
<rect x="40.60" y="271.98" width="5.15" height="25.25" fill="#FFFFB3"/>
<rect x="46.58" y="274.80" width="5.15" height="22.43" fill="#BEBADA"/>
<rect x="52.57" y="271.98" width="5.15" height="25.25" fill="#FB8072"/>
<rect x="58.55" y="271.27" width="5.15" height="25.96" fill="#80B1D3"/>
<rect x="64.54" y="270.71" width="5.15" height="26.52" fill="#FDB462"/>
<rect x="70.52" y="269.30" width="5.15" height="27.93" fill="#B3DE69"/>
<rect x="76.50" y="270.71" width="5.15" height="26.52" fill="#FCCDE5"/>
<rect x="82.49" y="271.27" width="5.15" height="25.96" fill="#D9D9D9"/>
<rect x="88.47" y="270.85" width="5.15" height="26.38" fill="#BC80BD"/>
<rect x="94.45" y="271.41" width="5.15" height="25.82" fill="#CCEBC5"/>
<rect x="100.44" y="271.27" width="5.15" height="25.96" fill="#FFED6F"/>
<rect x="111.6" y="267.62" width="73.0" height="31.02" fill="#EBEBEB"/>
<path d="M111.6 297.23h73.0" stroke="#fff" stroke-width="0.65"/><path d="M111.6 293.70h73.0" stroke="#fff" stroke-width="0.55"/><path d="M111.6 290.18h73.0" stroke="#fff" stroke-width="0.65"/><path d="M111.6 286.65h73.0" stroke="#fff" stroke-width="0.55"/><path d="M111.6 283.13h73.0" stroke="#fff" stroke-width="0.65"/><path d="M111.6 279.60h73.0" stroke="#fff" stroke-width="0.55"/><path d="M111.6 276.08h73.0" stroke="#fff" stroke-width="0.65"/><path d="M111.6 272.55h73.0" stroke="#fff" stroke-width="0.55"/><path d="M111.6 269.03h73.0" stroke="#fff" stroke-width="0.65"/><path d="M115.19 267.62V298.64" stroke="#fff" stroke-width="0.65"/><path d="M118.18 267.62V298.64" stroke="#fff" stroke-width="0.55"/><path d="M121.17 267.62V298.64" stroke="#fff" stroke-width="0.65"/><path d="M124.17 267.62V298.64" stroke="#fff" stroke-width="0.55"/><path d="M127.16 267.62V298.64" stroke="#fff" stroke-width="0.65"/><path d="M130.15 267.62V298.64" stroke="#fff" stroke-width="0.55"/><path d="M133.14 267.62V298.64" stroke="#fff" stroke-width="0.65"/><path d="M136.13 267.62V298.64" stroke="#fff" stroke-width="0.55"/><path d="M139.12 267.62V298.64" stroke="#fff" stroke-width="0.65"/><path d="M142.12 267.62V298.64" stroke="#fff" stroke-width="0.55"/><path d="M145.11 267.62V298.64" stroke="#fff" stroke-width="0.65"/><path d="M148.10 267.62V298.64" stroke="#fff" stroke-width="0.55"/><path d="M151.09 267.62V298.64" stroke="#fff" stroke-width="0.65"/><path d="M154.08 267.62V298.64" stroke="#fff" stroke-width="0.55"/><path d="M157.08 267.62V298.64" stroke="#fff" stroke-width="0.65"/><path d="M160.07 267.62V298.64" stroke="#fff" stroke-width="0.55"/><path d="M163.06 267.62V298.64" stroke="#fff" stroke-width="0.65"/><path d="M166.05 267.62V298.64" stroke="#fff" stroke-width="0.55"/><path d="M169.04 267.62V298.64" stroke="#fff" stroke-width="0.65"/><path d="M172.03 267.62V298.64" stroke="#fff" stroke-width="0.55"/><path d="M175.03 267.62V298.64" stroke="#fff" stroke-width="0.65"/><path d="M178.02 267.62V298.64" stroke="#fff" stroke-width="0.55"/><path d="M181.01 267.62V298.64" stroke="#fff" stroke-width="0.65"/><path d="M184.00 267.62V298.64" stroke="#fff" stroke-width="0.55"/>
<rect x="112.62" y="273.95" width="5.15" height="23.28" fill="#8DD3C7"/>
<rect x="118.60" y="273.10" width="5.15" height="24.13" fill="#FFFFB3"/>
<rect x="124.58" y="275.92" width="5.15" height="21.31" fill="#BEBADA"/>
<rect x="130.57" y="272.54" width="5.15" height="24.69" fill="#FB8072"/>
<rect x="136.55" y="280.01" width="5.15" height="17.22" fill="#80B1D3"/>
<rect x="142.54" y="270.99" width="5.15" height="26.24" fill="#FDB462"/>
<rect x="148.52" y="269.72" width="5.15" height="27.51" fill="#B3DE69"/>
<rect x="154.50" y="270.57" width="5.15" height="26.66" fill="#FCCDE5"/>
<rect x="160.49" y="271.41" width="5.15" height="25.82" fill="#D9D9D9"/>
<rect x="166.47" y="270.99" width="5.15" height="26.24" fill="#BC80BD"/>
<rect x="172.45" y="271.41" width="5.15" height="25.82" fill="#CCEBC5"/>
<rect x="178.44" y="270.99" width="5.15" height="26.24" fill="#FFED6F"/>
<rect x="188.9" y="267.62" width="73.0" height="31.02" fill="#EBEBEB"/>
<path d="M188.9 297.23h73.0" stroke="#fff" stroke-width="0.65"/><path d="M188.9 293.70h73.0" stroke="#fff" stroke-width="0.55"/><path d="M188.9 290.18h73.0" stroke="#fff" stroke-width="0.65"/><path d="M188.9 286.65h73.0" stroke="#fff" stroke-width="0.55"/><path d="M188.9 283.13h73.0" stroke="#fff" stroke-width="0.65"/><path d="M188.9 279.60h73.0" stroke="#fff" stroke-width="0.55"/><path d="M188.9 276.08h73.0" stroke="#fff" stroke-width="0.65"/><path d="M188.9 272.55h73.0" stroke="#fff" stroke-width="0.55"/><path d="M188.9 269.03h73.0" stroke="#fff" stroke-width="0.65"/><path d="M192.49 267.62V298.64" stroke="#fff" stroke-width="0.65"/><path d="M195.48 267.62V298.64" stroke="#fff" stroke-width="0.55"/><path d="M198.47 267.62V298.64" stroke="#fff" stroke-width="0.65"/><path d="M201.47 267.62V298.64" stroke="#fff" stroke-width="0.55"/><path d="M204.46 267.62V298.64" stroke="#fff" stroke-width="0.65"/><path d="M207.45 267.62V298.64" stroke="#fff" stroke-width="0.55"/><path d="M210.44 267.62V298.64" stroke="#fff" stroke-width="0.65"/><path d="M213.43 267.62V298.64" stroke="#fff" stroke-width="0.55"/><path d="M216.42 267.62V298.64" stroke="#fff" stroke-width="0.65"/><path d="M219.42 267.62V298.64" stroke="#fff" stroke-width="0.55"/><path d="M222.41 267.62V298.64" stroke="#fff" stroke-width="0.65"/><path d="M225.40 267.62V298.64" stroke="#fff" stroke-width="0.55"/><path d="M228.39 267.62V298.64" stroke="#fff" stroke-width="0.65"/><path d="M231.38 267.62V298.64" stroke="#fff" stroke-width="0.55"/><path d="M234.38 267.62V298.64" stroke="#fff" stroke-width="0.65"/><path d="M237.37 267.62V298.64" stroke="#fff" stroke-width="0.55"/><path d="M240.36 267.62V298.64" stroke="#fff" stroke-width="0.65"/><path d="M243.35 267.62V298.64" stroke="#fff" stroke-width="0.55"/><path d="M246.34 267.62V298.64" stroke="#fff" stroke-width="0.65"/><path d="M249.33 267.62V298.64" stroke="#fff" stroke-width="0.55"/><path d="M252.33 267.62V298.64" stroke="#fff" stroke-width="0.65"/><path d="M255.32 267.62V298.64" stroke="#fff" stroke-width="0.55"/><path d="M258.31 267.62V298.64" stroke="#fff" stroke-width="0.65"/><path d="M261.30 267.62V298.64" stroke="#fff" stroke-width="0.55"/>
<rect x="189.92" y="275.08" width="5.15" height="22.15" fill="#8DD3C7"/>
<rect x="195.90" y="273.39" width="5.15" height="23.84" fill="#FFFFB3"/>
<rect x="201.88" y="277.05" width="5.15" height="20.18" fill="#BEBADA"/>
<rect x="207.87" y="273.39" width="5.15" height="23.84" fill="#FB8072"/>
<rect x="213.85" y="288.05" width="5.15" height="9.18" fill="#80B1D3"/>
<rect x="219.84" y="271.98" width="5.15" height="25.25" fill="#FDB462"/>
<rect x="225.82" y="269.72" width="5.15" height="27.51" fill="#B3DE69"/>
<rect x="231.80" y="270.00" width="5.15" height="27.23" fill="#FCCDE5"/>
<rect x="237.79" y="271.98" width="5.15" height="25.25" fill="#D9D9D9"/>
<rect x="243.77" y="270.99" width="5.15" height="26.24" fill="#BC80BD"/>
<rect x="249.75" y="271.98" width="5.15" height="25.25" fill="#CCEBC5"/>
<rect x="255.74" y="271.41" width="5.15" height="25.82" fill="#FFED6F"/>
<rect x="262.0" y="267.62" width="13.70" height="31.02" fill="#D9D9D9"/>
<text transform="translate(265.9 274.90) rotate(90)" font-size="7.2" fill="#1A1A1A" textLength="17.3" lengthAdjust="spacingAndGlyphs"><tspan font-style="italic">n</tspan>=10</text>
<path d="M31.8 297.23H33.6" stroke="#333" stroke-width="0.9"/>
<text x="16.7" y="299.78" font-size="6.9" fill="#4D4D4D" textLength="13.2" lengthAdjust="spacingAndGlyphs">0.00</text>
<path d="M31.8 290.18H33.6" stroke="#333" stroke-width="0.9"/>
<text x="16.7" y="292.73" font-size="6.9" fill="#4D4D4D" textLength="13.2" lengthAdjust="spacingAndGlyphs">0.25</text>
<path d="M31.8 283.13H33.6" stroke="#333" stroke-width="0.9"/>
<text x="16.7" y="285.68" font-size="6.9" fill="#4D4D4D" textLength="13.2" lengthAdjust="spacingAndGlyphs">0.50</text>
<path d="M31.8 276.08H33.6" stroke="#333" stroke-width="0.9"/>
<text x="16.7" y="278.63" font-size="6.9" fill="#4D4D4D" textLength="13.2" lengthAdjust="spacingAndGlyphs">0.75</text>
<path d="M31.8 269.03H33.6" stroke="#333" stroke-width="0.9"/>
<text x="16.7" y="271.58" font-size="6.9" fill="#4D4D4D" textLength="13.2" lengthAdjust="spacingAndGlyphs">1.00</text>
<text transform="translate(10.8 199.1) rotate(-90)" font-size="10.7" fill="#000"><tspan x="0" textLength="20.7" lengthAdjust="spacingAndGlyphs">Type</tspan> <tspan x="24.2" textLength="7.4" lengthAdjust="spacingAndGlyphs">II</tspan> <tspan x="35.4" textLength="20.7" lengthAdjust="spacingAndGlyphs">error</tspan> <tspan x="59.9" textLength="18.9" lengthAdjust="spacingAndGlyphs">rate</tspan></text>
<text x="290" y="23.9" font-size="10" fill="#000" textLength="25.5" lengthAdjust="spacingAndGlyphs">Model</text>
<rect x="290" y="30.55" width="21" height="21.2" fill="#8DD3C7"/>
<text x="317.3" y="43.85" font-size="7.6" font-style="italic" fill="#000" textLength="49.1" lengthAdjust="spacingAndGlyphs">LRT.corrected</text>
<rect x="290" y="53.36" width="21" height="21.2" fill="#FFFFB3"/>
<text x="317.3" y="66.66" font-size="7.6" font-style="italic" fill="#000" textLength="49.1" lengthAdjust="spacingAndGlyphs">LRT.restriktor</text>
<rect x="290" y="76.17" width="21" height="21.2" fill="#BEBADA"/>
<text x="317.3" y="89.47" font-size="7.6" font-style="italic" fill="#000" textLength="51.8" lengthAdjust="spacingAndGlyphs">Wald.naive.info</text>
<rect x="290" y="98.98" width="21" height="21.2" fill="#FB8072"/>
<text x="317.3" y="104.88" font-size="7.6" font-style="italic" fill="#000" textLength="65.3" lengthAdjust="spacingAndGlyphs">Wald.corrected.info</text>
<text x="317.3" y="112.28" font-size="7.6" font-style="italic" fill="#000" textLength="41.2" lengthAdjust="spacingAndGlyphs">Wald.VCOV</text>
<text x="317.3" y="119.68" font-size="7.6" font-style="italic" fill="#000" textLength="39.0" lengthAdjust="spacingAndGlyphs">D.corrected</text>
<rect x="290" y="121.79" width="21" height="21.2" fill="#80B1D3"/>
<text x="317.3" y="135.09" font-size="7.6" font-style="italic" fill="#000" textLength="59.2" lengthAdjust="spacingAndGlyphs">Score.corrected.U</text>
<rect x="290" y="144.60" width="21" height="21.2" fill="#FDB462"/>
<text x="317.3" y="157.90" font-size="7.6" font-style="italic" fill="#000" textLength="81.1" lengthAdjust="spacingAndGlyphs">Score.corrected.null-info</text>
<rect x="290" y="167.41" width="21" height="21.2" fill="#B3DE69"/>
<text x="317.3" y="180.71" font-size="7.6" font-style="italic" fill="#000" textLength="81.1" lengthAdjust="spacingAndGlyphs">Score.restriktor.null-info</text>
<rect x="290" y="190.22" width="21" height="21.2" fill="#FCCDE5"/>
<text x="317.3" y="199.82" font-size="7.6" font-style="italic" fill="#000" textLength="66.0" lengthAdjust="spacingAndGlyphs">Score.corrected.info</text>
<text x="317.3" y="207.22" font-size="7.6" font-style="italic" fill="#000" textLength="43.5" lengthAdjust="spacingAndGlyphs">Score.VCOV</text>
<rect x="290" y="213.03" width="21" height="21.2" fill="#D9D9D9"/>
<text x="317.3" y="222.63" font-size="7.6" font-style="italic" fill="#000" textLength="48.7" lengthAdjust="spacingAndGlyphs">Fbar.corrected</text>
<text x="317.3" y="230.03" font-size="7.6" font-style="italic" fill="#000" textLength="48.7" lengthAdjust="spacingAndGlyphs">Fbar.restriktor</text>
<rect x="290" y="235.84" width="21" height="21.2" fill="#BC80BD"/>
<text x="317.3" y="249.14" font-size="7.6" font-style="italic" fill="#000" textLength="37.8" lengthAdjust="spacingAndGlyphs">F.corrected</text>
<rect x="290" y="258.65" width="21" height="21.2" fill="#CCEBC5"/>
<text x="317.3" y="271.95" font-size="7.6" font-style="italic" fill="#000" textLength="35.5" lengthAdjust="spacingAndGlyphs">t.one-sided</text>
<rect x="290" y="281.46" width="21" height="21.2" fill="#FFED6F"/>
<text x="317.3" y="294.76" font-size="7.6" font-style="italic" fill="#000" textLength="35.5" lengthAdjust="spacingAndGlyphs">t.two-sided</text>
</svg></body></html>
